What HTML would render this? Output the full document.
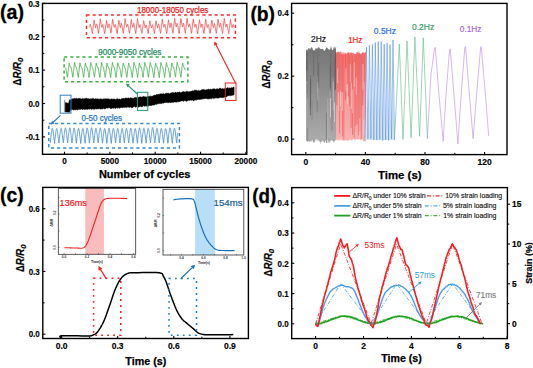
<!DOCTYPE html>
<html><head><meta charset="utf-8"><style>
html,body{margin:0;padding:0;background:#fff;}
svg{display:block;font-family:"Liberation Sans", sans-serif;}
</style></head><body>
<svg width="533" height="368" viewBox="0 0 533 368">
<rect width="533" height="368" fill="#fff"/>
<text x="0" y="18.8" font-size="20.5" font-weight="bold" font-style="normal" text-anchor="start" fill="#000" textLength="24" lengthAdjust="spacingAndGlyphs" stroke="#000" stroke-width="0.3">(a)</text>
<line x1="42.5" y1="3.3" x2="45.1" y2="3.3" stroke="#000" stroke-width="1.1" />
<text x="39.5" y="6.5" font-size="9.3" font-weight="bold" font-style="normal" text-anchor="end" fill="#000" textLength="11.12" lengthAdjust="spacingAndGlyphs" stroke="#000" stroke-width="0.15">0.3</text>
<line x1="42.5" y1="36.7" x2="45.1" y2="36.7" stroke="#000" stroke-width="1.1" />
<text x="39.5" y="39.9" font-size="9.3" font-weight="bold" font-style="normal" text-anchor="end" fill="#000" textLength="11.12" lengthAdjust="spacingAndGlyphs" stroke="#000" stroke-width="0.15">0.2</text>
<line x1="42.5" y1="70.1" x2="45.1" y2="70.1" stroke="#000" stroke-width="1.1" />
<text x="39.5" y="73.3" font-size="9.3" font-weight="bold" font-style="normal" text-anchor="end" fill="#000" textLength="11.12" lengthAdjust="spacingAndGlyphs" stroke="#000" stroke-width="0.15">0.1</text>
<line x1="42.5" y1="103.5" x2="45.1" y2="103.5" stroke="#000" stroke-width="1.1" />
<text x="39.5" y="106.7" font-size="9.3" font-weight="bold" font-style="normal" text-anchor="end" fill="#000" textLength="11.12" lengthAdjust="spacingAndGlyphs" stroke="#000" stroke-width="0.15">0.0</text>
<line x1="42.5" y1="136.9" x2="45.1" y2="136.9" stroke="#000" stroke-width="1.1" />
<text x="39.5" y="140.1" font-size="9.3" font-weight="bold" font-style="normal" text-anchor="end" fill="#000" textLength="13.78" lengthAdjust="spacingAndGlyphs" stroke="#000" stroke-width="0.15">-0.1</text>
<line x1="42.5" y1="20" x2="44.32" y2="20" stroke="#000" stroke-width="1" />
<line x1="42.5" y1="53.4" x2="44.32" y2="53.4" stroke="#000" stroke-width="1" />
<line x1="42.5" y1="86.8" x2="44.32" y2="86.8" stroke="#000" stroke-width="1" />
<line x1="42.5" y1="120.2" x2="44.32" y2="120.2" stroke="#000" stroke-width="1" />
<line x1="64.5" y1="154.3" x2="64.5" y2="151.7" stroke="#000" stroke-width="1.1" />
<text x="64.5" y="164.2" font-size="8.2" font-weight="bold" font-style="normal" text-anchor="middle" fill="#000" stroke="#000" stroke-width="0.15">0</text>
<line x1="109.85" y1="154.3" x2="109.85" y2="151.7" stroke="#000" stroke-width="1.1" />
<text x="109.85" y="164.2" font-size="8.2" font-weight="bold" font-style="normal" text-anchor="middle" fill="#000" stroke="#000" stroke-width="0.15">5000</text>
<line x1="155.2" y1="154.3" x2="155.2" y2="151.7" stroke="#000" stroke-width="1.1" />
<text x="155.2" y="164.2" font-size="8.2" font-weight="bold" font-style="normal" text-anchor="middle" fill="#000" stroke="#000" stroke-width="0.15">10000</text>
<line x1="200.55" y1="154.3" x2="200.55" y2="151.7" stroke="#000" stroke-width="1.1" />
<text x="200.55" y="164.2" font-size="8.2" font-weight="bold" font-style="normal" text-anchor="middle" fill="#000" stroke="#000" stroke-width="0.15">15000</text>
<line x1="245.9" y1="154.3" x2="245.9" y2="151.7" stroke="#000" stroke-width="1.1" />
<text x="245.9" y="164.2" font-size="8.2" font-weight="bold" font-style="normal" text-anchor="middle" fill="#000" stroke="#000" stroke-width="0.15">20000</text>
<line x1="87.17" y1="154.3" x2="87.17" y2="152.48" stroke="#000" stroke-width="1" />
<line x1="132.53" y1="154.3" x2="132.53" y2="152.48" stroke="#000" stroke-width="1" />
<line x1="177.88" y1="154.3" x2="177.88" y2="152.48" stroke="#000" stroke-width="1" />
<line x1="223.22" y1="154.3" x2="223.22" y2="152.48" stroke="#000" stroke-width="1" />
<text x="144.7" y="178.2" font-size="11.2" font-weight="bold" font-style="normal" text-anchor="middle" fill="#000" textLength="91.5" lengthAdjust="spacingAndGlyphs" stroke="#000" stroke-width="0.25">Number of cycles</text>
<text x="0" y="0" font-size="10" font-weight="bold" font-style="normal" text-anchor="middle" fill="#000" textLength="27.6" lengthAdjust="spacingAndGlyphs" stroke="#000" stroke-width="0.2" transform="translate(21.4 71.6) rotate(-90)">&#916;<tspan font-style="italic">R/R</tspan><tspan font-style="italic" font-size="8" dy="1.6">0</tspan></text>
<path d="M65 102.8 L65.76 102.73 L66.52 102.66 L67.28 103.33 L68.04 102.81 L68.8 103.4 L69.4 99.8 L70.4 100 L71.2 99.54 L72 99 L72.67 98.82 L73.33 98.45 L74 98.91 L74.67 98.36 L75.33 98.76 L76 98.33 L76.67 98.32 L77.33 98.65 L78 99.06 L78.67 98.25 L79.33 98.33 L80 98.6 L80.67 98.75 L81.33 99.12 L82 98.73 L82.67 98.54 L83.33 99.2 L84 98.19 L84.67 99.09 L85.33 98.48 L86 98.34 L86.67 98.32 L87.33 98.55 L88 99.12 L88.67 98.43 L89.33 98.89 L90 98.97 L90.67 98.69 L91.33 98.9 L92 98.38 L92.67 98.39 L93.33 98.56 L94 98.9 L94.68 99.1 L95.35 98.83 L96.03 98.7 L96.7 99 L97.38 98.86 L98.05 98.7 L98.73 99.24 L99.41 99.14 L100.08 98.64 L100.76 99.01 L101.43 98.96 L102.11 99.35 L102.78 99.19 L103.46 98.7 L104.14 99.47 L104.81 98.52 L105.49 98.86 L106.16 99.23 L106.84 98.57 L107.51 98.94 L108.19 98.45 L108.86 99.14 L109.54 99.25 L110.22 99.05 L110.89 99.38 L111.57 98.77 L112.24 99.19 L112.92 99.08 L113.59 99.07 L114.27 98.93 L114.95 99.36 L115.62 99.48 L116.3 98.96 L116.97 99.17 L117.65 98.51 L118.32 99.22 L119 99 L119.68 99.11 L120.36 99.43 L121.04 99.19 L121.72 98.54 L122.4 98.59 L123.08 98.85 L123.76 98.08 L124.44 98.51 L125.12 98.13 L125.8 98.02 L126.48 97.9 L127.16 98.62 L127.84 97.86 L128.52 97.94 L129.2 98.04 L129.88 98.51 L130.56 97.59 L131.24 97.94 L131.92 97.99 L132.6 98.3 L133.28 98.18 L133.96 98.17 L134.64 97.47 L135.32 97.56 L136 97.6 L136.67 97.38 L137.35 97.9 L138.02 97.91 L138.69 96.96 L139.37 96.93 L140.04 96.93 L140.72 96.86 L141.39 97.08 L142.06 97.13 L142.74 96.71 L143.41 96.36 L144.08 96.75 L144.76 96.64 L145.43 96.79 L146.11 97.15 L146.78 96.8 L147.45 96.54 L148.13 96.59 L148.8 96.4 L149.48 96.48 L150.16 95.67 L150.85 96.48 L151.53 96.24 L152.21 96.22 L152.89 96.02 L153.57 95.45 L154.25 95.34 L154.94 94.9 L155.62 95.37 L156.3 94.62 L156.98 94.51 L157.66 94.54 L158.35 94.37 L159.03 94.45 L159.71 94.02 L160.39 93.84 L161.07 93.89 L161.75 93.72 L162.44 93.89 L163.12 93.4 L163.8 93.8 L164.47 94.15 L165.14 93.79 L165.81 93.21 L166.48 93.26 L167.15 93.3 L167.81 93.25 L168.48 92.92 L169.15 93.65 L169.82 93.74 L170.49 93.1 L171.16 93.05 L171.83 92.54 L172.5 92.5 L173.17 92.69 L173.84 92.54 L174.5 93.1 L175.17 92.29 L175.84 92.08 L176.51 93.03 L177.18 92.5 L177.85 92.01 L178.52 92.38 L179.19 91.75 L179.86 92.23 L180.53 92.66 L181.2 92.47 L181.86 92.22 L182.53 91.67 L183.2 91.72 L183.87 91.43 L184.54 92.03 L185.21 91.7 L185.88 91.91 L186.55 91.35 L187.22 91.16 L187.89 91.74 L188.55 91.87 L189.22 91.65 L189.89 91.54 L190.56 91.48 L191.23 91.33 L191.9 91 L192.57 90.63 L193.24 90.88 L193.91 90.64 L194.59 90.21 L195.26 90.14 L195.93 90.35 L196.6 90.26 L197.27 90.67 L197.94 90.89 L198.61 90.26 L199.29 90.73 L199.96 90.72 L200.63 90.62 L201.3 89.9 L201.97 89.67 L202.64 89.61 L203.31 89.51 L203.99 89.45 L204.66 89.85 L205.33 90.08 L206 89.95 L206.67 89.48 L207.34 89.61 L208.01 89.7 L208.69 88.85 L209.36 89.41 L210.03 89.62 L210.7 89.1 L211.37 89.38 L212.03 89.32 L212.7 88.99 L213.37 88.63 L214.03 89.28 L214.7 88.74 L215.37 89.23 L216.03 89.39 L216.7 88.73 L217.37 88.71 L218.03 89.28 L218.7 89 L219.37 88.37 L220.03 88.29 L220.7 88.29 L221.37 89.09 L222.03 88.95 L222.7 88.2 L223.37 88.92 L224.03 89.06 L224.7 88.5 L225.37 88.58 L226.04 88.15 L226.71 88.27 L227.39 87.72 L228.06 87.5 L228.73 88.46 L229.4 88.01 L230.07 87.79 L230.74 88.14 L231.41 87.5 L232.09 87.89 L232.76 87.74 L233.43 86.98 L234.1 87.2 L234.1 94.7 L233.43 95.07 L232.76 95.18 L232.09 95.35 L231.41 95.45 L230.74 95.93 L230.07 95.29 L229.4 95.75 L228.73 95.67 L228.06 95.73 L227.39 96.12 L226.71 96.8 L226.04 96.96 L225.37 97.36 L224.7 97.1 L224.03 97.26 L223.37 97.59 L222.7 97.64 L222.03 97.74 L221.37 97.44 L220.7 97.53 L220.03 97.17 L219.37 97.98 L218.7 97.96 L218.03 97.91 L217.37 98.26 L216.7 98.27 L216.03 97.46 L215.37 98.19 L214.7 98.35 L214.03 97.78 L213.37 98.77 L212.7 98.11 L212.03 98.25 L211.37 98.85 L210.7 98.5 L210.03 98.8 L209.36 98.8 L208.69 98.97 L208.01 98.79 L207.34 98.92 L206.67 98.59 L206 98.73 L205.33 98.49 L204.66 98.57 L203.99 99.03 L203.31 98.76 L202.64 99.01 L201.97 98.79 L201.3 99.41 L200.63 99.14 L199.96 99.53 L199.29 99.56 L198.61 99.53 L197.94 99.17 L197.27 99.63 L196.6 99.64 L195.93 100.43 L195.26 99.7 L194.59 100.09 L193.91 100.63 L193.24 100.68 L192.57 99.98 L191.9 100.3 L191.23 100.31 L190.56 100.06 L189.89 100.46 L189.22 100.34 L188.55 100.35 L187.89 100.46 L187.22 100.95 L186.55 101.24 L185.88 101.28 L185.21 100.51 L184.54 100.66 L183.87 100.83 L183.2 101.43 L182.53 100.76 L181.86 100.89 L181.2 100.88 L180.53 101.27 L179.86 101.4 L179.19 101.72 L178.52 101.86 L177.85 102.07 L177.18 101.59 L176.51 102.36 L175.84 102.11 L175.17 101.97 L174.5 101.92 L173.84 102.47 L173.17 102.16 L172.5 102.16 L171.83 102.65 L171.16 101.93 L170.49 102.91 L169.82 102.47 L169.15 102.23 L168.48 102.69 L167.81 102.96 L167.15 102.23 L166.48 102.56 L165.81 102.37 L165.14 102.8 L164.47 102.68 L163.8 103.1 L163.12 103.22 L162.44 103.11 L161.75 103.75 L161.07 103.38 L160.39 103.51 L159.71 103.51 L159.03 103.46 L158.35 103.71 L157.66 103.77 L156.98 104.04 L156.3 104.48 L155.62 104.16 L154.94 104.44 L154.25 105.29 L153.57 105 L152.89 104.89 L152.21 105.14 L151.53 105.71 L150.85 104.96 L150.16 105.95 L149.48 105.22 L148.8 105.8 L148.13 106.19 L147.45 106.07 L146.78 106.47 L146.11 105.58 L145.43 106.03 L144.76 106.39 L144.08 105.76 L143.41 105.85 L142.74 106.59 L142.06 106.51 L141.39 106.96 L140.72 106.17 L140.04 106.36 L139.37 107.04 L138.69 107.2 L138.02 106.73 L137.35 106.47 L136.67 106.68 L136 107 L135.32 107.34 L134.64 106.56 L133.96 106.84 L133.28 106.69 L132.6 107.68 L131.92 107.51 L131.24 107.76 L130.56 106.78 L129.88 107.3 L129.2 107.46 L128.52 107.17 L127.84 106.85 L127.16 107.35 L126.48 107.51 L125.8 106.95 L125.12 107.76 L124.44 107.34 L123.76 107.24 L123.08 107.43 L122.4 107.66 L121.72 107.6 L121.04 107.33 L120.36 108.1 L119.68 108.31 L119 107.8 L118.32 107.82 L117.65 107.75 L116.97 108.4 L116.3 107.62 L115.62 108.48 L114.95 108.42 L114.27 107.63 L113.59 108.24 L112.92 108.33 L112.24 107.74 L111.57 108.59 L110.89 108.5 L110.22 108.41 L109.54 107.78 L108.86 108 L108.19 107.85 L107.51 108.29 L106.84 107.97 L106.16 108.02 L105.49 108.82 L104.81 108.97 L104.14 108.58 L103.46 108.28 L102.78 109.06 L102.11 109.02 L101.43 108.86 L100.76 109.16 L100.08 108.68 L99.41 108.78 L98.73 108.72 L98.05 109.02 L97.38 108.85 L96.7 108.88 L96.03 109.03 L95.35 108.87 L94.68 109.42 L94 109 L93.33 109.31 L92.67 109.12 L92 109.08 L91.33 109.4 L90.67 108.88 L90 108.87 L89.33 109.24 L88.67 108.76 L88 109.53 L87.33 109.3 L86.67 109.29 L86 109.1 L85.33 109.38 L84.67 109.59 L84 109.33 L83.33 109.03 L82.67 109.74 L82 108.89 L81.33 109.11 L80.67 109.42 L80 108.98 L79.33 109.56 L78.67 109.59 L78 109.58 L77.33 110.07 L76.67 109.54 L76 110.1 L75.33 109.77 L74.67 109.66 L74 109.57 L73.33 110.2 L72.67 109.37 L72 109.8 L71.2 109.81 L70.4 110 L69.4 112.4 L68.67 112.1 L67.93 112.43 L67.2 112.01 L66.47 112.04 L65.73 111.96 L65 112.2 Z" fill="#000" stroke="#000" stroke-width="0.5" stroke-linejoin="round" />
<rect x="63.9" y="99.9" width="1.3" height="11.9" stroke="none" stroke-width="0" fill="#9a9a9a" />
<rect x="60.2" y="95.2" width="10.8" height="18" stroke="#2f7fc0" stroke-width="1" fill="none" />
<rect x="137.4" y="92.3" width="10.4" height="18.1" stroke="#2a9a70" stroke-width="1" fill="none" />
<rect x="225.3" y="83" width="10.7" height="17.4" stroke="#ee2222" stroke-width="1" fill="none" />
<rect x="48.8" y="123.4" width="130.6" height="24.7" stroke="#3a8cd0" stroke-width="1.5" fill="none" stroke-dasharray="3.2 2.9"/>
<rect x="64.1" y="57" width="123.8" height="24.8" stroke="#3cae46" stroke-width="1.5" fill="none" stroke-dasharray="3.2 2.9"/>
<rect x="86.5" y="15" width="148.9" height="22.8" stroke="#f23030" stroke-width="1.5" fill="none" stroke-dasharray="3.2 2.9"/>
<text x="81.5" y="121" font-size="8.3" font-weight="normal" font-style="normal" text-anchor="start" fill="#2a78c0" textLength="40.5" lengthAdjust="spacingAndGlyphs" stroke="#2a78c0" stroke-width="0.25">0-50 cycles</text>
<text x="98.2" y="54.6" font-size="8.3" font-weight="normal" font-style="normal" text-anchor="start" fill="#1f8a60" textLength="63.2" lengthAdjust="spacingAndGlyphs" stroke="#23906a" stroke-width="0.25">9000-9050 cycles</text>
<text x="137" y="12.9" font-size="8.3" font-weight="normal" font-style="normal" text-anchor="start" fill="#f02020" textLength="71.3" lengthAdjust="spacingAndGlyphs" stroke="#f02020" stroke-width="0.25">18000-18050 cycles</text>
<line x1="60.5" y1="115.3" x2="52.97" y2="122.52" stroke="#2a78c0" stroke-width="1.1" />
<path d="M50.8 124.6 L52.01 120.81 L54.64 123.55 Z" fill="#2a78c0"/>
<line x1="137.3" y1="94" x2="128.21" y2="85.63" stroke="#23906a" stroke-width="1.1" />
<path d="M126 83.6 L129.86 84.57 L127.29 87.37 Z" fill="#23906a"/>
<line x1="235.6" y1="83.3" x2="215.8" y2="44.44" stroke="#ee2020" stroke-width="1.1" />
<path d="M214.3 41.5 L217.81 43.98 L214.24 45.79 Z" fill="#ee2020"/>
<path d="M50.2 143.3 L50.33 142.15 L50.45 141.07 L50.58 139.83 L50.7 138.47 L50.83 137.47 L50.95 136.26 L51.08 134.81 L51.2 134.11 L51.33 133.15 L51.45 132.18 L51.58 131.38 L51.7 130.6 L51.83 129.56 L51.95 128.78 L52.08 128.67 L52.2 128.31 L52.33 128.29 L52.45 128.31 L52.58 128.69 L52.7 128.88 L52.83 129.26 L52.95 130.03 L53.08 130.89 L53.2 131.98 L53.33 133.08 L53.45 133.98 L53.58 134.93 L53.7 135.81 L53.83 136.86 L53.95 137.99 L54.08 139.3 L54.2 140.34 L54.33 141.26 L54.45 142.33 L54.58 143.37 L54.7 142.06 L54.83 140.81 L54.95 139.72 L55.08 138.65 L55.2 137.28 L55.33 136.27 L55.45 135.06 L55.58 134.23 L55.7 133.49 L55.83 132.36 L55.95 131.59 L56.08 130.68 L56.2 129.84 L56.33 129.33 L56.45 128.87 L56.58 128.93 L56.71 128.54 L56.83 128.81 L56.96 129.13 L57.08 129.37 L57.21 129.77 L57.33 130.44 L57.46 131.44 L57.58 132.3 L57.71 133.43 L57.83 134.29 L57.96 135.38 L58.08 136.3 L58.21 137.41 L58.33 138.52 L58.46 139.39 L58.58 140.55 L58.71 141.66 L58.83 142.59 L58.96 143.12 L59.08 141.95 L59.21 140.72 L59.33 139.44 L59.46 138.24 L59.58 137 L59.71 135.88 L59.83 134.88 L59.96 133.72 L60.08 133.05 L60.21 132.18 L60.33 131.22 L60.46 130.22 L60.58 129.42 L60.71 128.98 L60.83 128.71 L60.96 128.47 L61.08 128.33 L61.21 128.6 L61.33 128.7 L61.46 129.19 L61.58 129.64 L61.71 130.45 L61.83 131.34 L61.96 132.2 L62.08 133.35 L62.21 134.35 L62.33 135.25 L62.46 136.12 L62.58 137.23 L62.71 138.32 L62.83 139.51 L62.96 140.7 L63.09 141.59 L63.21 142.74 L63.34 142.74 L63.46 141.53 L63.59 140.41 L63.71 139.25 L63.84 138.06 L63.96 136.83 L64.09 135.61 L64.21 134.41 L64.34 133.58 L64.46 132.54 L64.59 131.75 L64.71 130.92 L64.84 129.86 L64.96 128.94 L65.09 128.39 L65.21 128.28 L65.34 128.07 L65.46 127.78 L65.59 128.09 L65.71 128.55 L65.84 128.82 L65.96 129.39 L66.09 130.3 L66.21 131.09 L66.34 132.17 L66.46 133.34 L66.59 134.15 L66.71 135.34 L66.84 136.36 L66.96 137.41 L67.09 138.52 L67.21 139.55 L67.34 140.63 L67.46 141.8 L67.59 142.81 L67.71 142.71 L67.84 141.36 L67.96 140.12 L68.09 139.09 L68.21 137.78 L68.34 136.48 L68.46 135.25 L68.59 134.07 L68.71 133.45 L68.84 132.39 L68.96 131.45 L69.09 130.52 L69.21 129.79 L69.34 128.83 L69.47 128.36 L69.59 128.12 L69.72 128.04 L69.84 127.92 L69.97 128.13 L70.09 128.4 L70.22 129.05 L70.34 129.2 L70.47 130.38 L70.59 131.14 L70.72 132.39 L70.84 133.31 L70.97 134.44 L71.09 135.26 L71.22 136.38 L71.34 137.62 L71.47 138.56 L71.59 139.6 L71.72 140.97 L71.84 142.05 L71.97 142.96 L72.09 142.39 L72.22 141.25 L72.34 140.15 L72.47 138.86 L72.59 137.59 L72.72 136.39 L72.84 135.25 L72.97 134.08 L73.09 133.32 L73.22 132.49 L73.34 131.6 L73.47 130.66 L73.59 129.91 L73.72 128.84 L73.84 128.4 L73.97 128.42 L74.09 128.2 L74.22 128.09 L74.34 128.55 L74.47 128.79 L74.59 129.15 L74.72 129.57 L74.84 130.58 L74.97 131.58 L75.09 132.58 L75.22 133.53 L75.34 134.57 L75.47 135.47 L75.59 136.49 L75.72 137.78 L75.85 138.83 L75.97 140.05 L76.1 141.07 L76.22 142.04 L76.35 143.3 L76.47 142.43 L76.6 141.22 L76.72 140.09 L76.85 138.68 L76.97 137.58 L77.1 136.3 L77.22 135.06 L77.35 134.36 L77.47 133.3 L77.6 132.43 L77.72 131.64 L77.85 130.71 L77.97 129.81 L78.1 128.96 L78.22 128.87 L78.35 128.59 L78.47 128.51 L78.6 128.35 L78.72 128.74 L78.85 129.14 L78.97 129.5 L79.1 130.13 L79.22 131.11 L79.35 132.01 L79.47 132.92 L79.6 133.98 L79.72 134.83 L79.85 136.03 L79.97 136.79 L80.1 138.02 L80.22 139.19 L80.35 140.08 L80.47 141.21 L80.6 142.37 L80.72 143.51 L80.85 142.31 L80.97 141.12 L81.1 139.89 L81.22 138.66 L81.35 137.31 L81.47 136.38 L81.6 135.06 L81.72 134.26 L81.85 133.32 L81.97 132.6 L82.1 131.68 L82.23 130.83 L82.35 130.01 L82.48 129.05 L82.6 128.85 L82.73 128.63 L82.85 128.4 L82.98 128.43 L83.1 128.9 L83.23 129.43 L83.35 129.69 L83.48 130.27 L83.6 131.37 L83.73 132.22 L83.85 133.25 L83.98 134.22 L84.1 135.21 L84.23 135.97 L84.35 137.21 L84.48 138.16 L84.6 139.31 L84.73 140.22 L84.85 141.48 L84.98 142.43 L85.1 143.28 L85.23 142 L85.35 140.89 L85.48 139.61 L85.6 138.38 L85.73 137.04 L85.85 135.8 L85.98 134.66 L86.1 133.95 L86.23 133.01 L86.35 132.06 L86.48 131.1 L86.6 130.33 L86.73 129.39 L86.85 128.52 L86.98 128.55 L87.1 128.12 L87.23 128 L87.35 128.19 L87.48 128.43 L87.6 128.83 L87.73 129.36 L87.85 130.17 L87.98 130.99 L88.1 132 L88.23 132.93 L88.35 134.04 L88.48 135.08 L88.61 136.17 L88.73 137 L88.86 138.32 L88.98 139.29 L89.11 140.57 L89.23 141.49 L89.36 142.79 L89.48 143.12 L89.61 141.86 L89.73 140.52 L89.86 139.31 L89.98 138.07 L90.11 136.82 L90.23 135.69 L90.36 134.41 L90.48 133.52 L90.61 132.69 L90.73 131.88 L90.86 130.89 L90.98 130.11 L91.11 129.28 L91.23 128.38 L91.36 128.26 L91.48 128.01 L91.61 127.73 L91.73 128.16 L91.86 128.62 L91.98 128.75 L92.11 129.2 L92.23 130.11 L92.36 130.98 L92.48 132.06 L92.61 133.15 L92.73 134.15 L92.86 135.23 L92.98 136.08 L93.11 137.18 L93.23 138.4 L93.36 139.31 L93.48 140.53 L93.61 141.67 L93.73 142.89 L93.86 142.91 L93.98 141.54 L94.11 140.46 L94.23 139.17 L94.36 137.96 L94.48 137 L94.61 135.56 L94.73 134.67 L94.86 133.61 L94.99 132.94 L95.11 132.08 L95.24 131.21 L95.36 130.33 L95.49 129.32 L95.61 128.93 L95.74 128.7 L95.86 128.51 L95.99 128.29 L96.11 128.65 L96.24 128.95 L96.36 129.48 L96.49 129.84 L96.61 130.49 L96.74 131.66 L96.86 132.59 L96.99 133.59 L97.11 134.46 L97.24 135.45 L97.36 136.46 L97.49 137.48 L97.61 138.51 L97.74 139.74 L97.86 140.93 L97.99 141.97 L98.11 142.84 L98.24 142.77 L98.36 141.43 L98.49 140.3 L98.61 139 L98.74 137.82 L98.86 136.58 L98.99 135.4 L99.11 134.26 L99.24 133.23 L99.36 132.55 L99.49 131.51 L99.61 130.63 L99.74 129.92 L99.86 128.84 L99.99 128.55 L100.11 128.2 L100.24 128.13 L100.36 127.84 L100.49 128.19 L100.61 128.71 L100.74 128.99 L100.86 129.46 L100.99 130.44 L101.11 131.58 L101.24 132.54 L101.37 133.37 L101.49 134.53 L101.62 135.37 L101.74 136.55 L101.87 137.51 L101.99 138.73 L102.12 139.91 L102.24 141.05 L102.37 142.05 L102.49 143.16 L102.62 142.39 L102.74 141.41 L102.87 140.21 L102.99 138.97 L103.12 137.81 L103.24 136.63 L103.37 135.32 L103.49 134.28 L103.62 133.56 L103.74 132.67 L103.87 131.97 L103.99 130.95 L104.12 130.17 L104.24 129.23 L104.37 128.88 L104.49 128.79 L104.62 128.45 L104.74 128.45 L104.87 128.73 L104.99 129.21 L105.12 129.5 L105.24 129.95 L105.37 131.09 L105.49 131.88 L105.62 133.06 L105.74 134.01 L105.87 134.95 L105.99 135.8 L106.12 136.91 L106.24 137.92 L106.37 139.07 L106.49 140.16 L106.62 141.12 L106.74 142.32 L106.87 143.42 L106.99 142.17 L107.12 141.02 L107.24 139.77 L107.37 138.48 L107.49 137.49 L107.62 136.25 L107.75 134.85 L107.87 134.1 L108 133.06 L108.12 132.2 L108.25 131.48 L108.37 130.47 L108.5 129.58 L108.62 128.78 L108.75 128.46 L108.87 128.26 L109 128.03 L109.12 128.11 L109.25 128.46 L109.37 128.69 L109.5 129.19 L109.62 129.62 L109.75 130.77 L109.87 131.85 L110 132.81 L110.12 133.87 L110.25 134.77 L110.37 135.66 L110.5 136.71 L110.62 137.88 L110.75 139.03 L110.87 140.24 L111 141.25 L111.12 142.41 L111.25 143.42 L111.37 142.14 L111.5 141.04 L111.62 139.58 L111.75 138.65 L111.87 137.28 L112 135.98 L112.12 134.82 L112.25 133.93 L112.37 133.2 L112.5 132.38 L112.62 131.36 L112.75 130.52 L112.87 129.82 L113 128.92 L113.12 128.77 L113.25 128.56 L113.37 128.39 L113.5 128.31 L113.62 128.77 L113.75 129.27 L113.87 129.38 L114 130.12 L114.13 131.12 L114.25 132.21 L114.38 133.13 L114.5 134.06 L114.63 135.16 L114.75 136.03 L114.88 137.07 L115 138.05 L115.13 139.35 L115.25 140.38 L115.38 141.33 L115.5 142.44 L115.63 143.04 L115.75 141.93 L115.88 140.95 L116 139.61 L116.13 138.4 L116.25 137.17 L116.38 136.12 L116.5 134.86 L116.63 134.22 L116.75 133.2 L116.88 132.53 L117 131.43 L117.13 130.6 L117.25 129.82 L117.38 129.25 L117.5 129.04 L117.63 128.75 L117.75 128.4 L117.88 128.82 L118 129.24 L118.13 129.39 L118.25 129.84 L118.38 130.68 L118.5 131.55 L118.63 132.34 L118.75 133.4 L118.88 134.3 L119 135.24 L119.13 136.42 L119.25 137.51 L119.38 138.36 L119.5 139.52 L119.63 140.55 L119.75 141.63 L119.88 142.69 L120 143.05 L120.13 141.86 L120.25 140.61 L120.38 139.56 L120.51 138.33 L120.63 137.14 L120.76 135.95 L120.88 134.79 L121.01 133.87 L121.13 133.24 L121.26 132.25 L121.38 131.58 L121.51 130.57 L121.63 129.66 L121.76 129.08 L121.88 128.95 L122.01 128.73 L122.13 128.46 L122.26 128.95 L122.38 129.08 L122.51 129.64 L122.63 129.93 L122.76 130.63 L122.88 131.65 L123.01 132.72 L123.13 133.58 L123.26 134.51 L123.38 135.65 L123.51 136.61 L123.63 137.39 L123.76 138.53 L123.88 139.61 L124.01 140.82 L124.13 141.69 L124.26 142.79 L124.38 142.92 L124.51 141.7 L124.63 140.46 L124.76 139.26 L124.88 137.9 L125.01 136.77 L125.13 135.81 L125.26 134.66 L125.38 133.67 L125.51 132.79 L125.63 132.17 L125.76 131.25 L125.88 130.38 L126.01 129.32 L126.13 129.01 L126.26 128.69 L126.38 128.57 L126.51 128.25 L126.63 128.69 L126.76 129.07 L126.89 129.56 L127.01 129.87 L127.14 130.85 L127.26 131.75 L127.39 132.56 L127.51 133.67 L127.64 134.6 L127.76 135.48 L127.89 136.45 L128.01 137.75 L128.14 138.74 L128.26 139.71 L128.39 140.8 L128.51 141.83 L128.64 142.99 L128.76 142.51 L128.89 141.44 L129.01 140.36 L129.14 139.12 L129.26 137.75 L129.39 136.72 L129.51 135.26 L129.64 134.28 L129.76 133.51 L129.89 132.66 L130.01 131.69 L130.14 130.99 L130.26 130.08 L130.39 129.18 L130.51 128.91 L130.64 128.54 L130.76 128.26 L130.89 128.21 L131.01 128.62 L131.14 129.02 L131.26 129.31 L131.39 129.8 L131.51 130.56 L131.64 131.84 L131.76 132.58 L131.89 133.7 L132.01 134.57 L132.14 135.5 L132.26 136.74 L132.39 137.82 L132.51 138.93 L132.64 139.86 L132.76 141 L132.89 142.13 L133.01 143.23 L133.14 142.48 L133.27 141.16 L133.39 140.19 L133.52 139.03 L133.64 137.73 L133.77 136.63 L133.89 135.35 L134.02 134.28 L134.14 133.65 L134.27 132.57 L134.39 131.73 L134.52 131.09 L134.64 130.26 L134.77 129.12 L134.89 129.08 L135.02 128.75 L135.14 128.64 L135.27 128.66 L135.39 128.75 L135.52 129.35 L135.64 129.47 L135.77 130.13 L135.89 131.18 L136.02 131.94 L136.14 133.09 L136.27 133.87 L136.39 135 L136.52 135.8 L136.64 136.91 L136.77 137.91 L136.89 139.16 L137.02 140.22 L137.14 141.16 L137.27 142.16 L137.39 143.3 L137.52 142.3 L137.64 141.02 L137.77 139.79 L137.89 138.58 L138.02 137.25 L138.14 136.05 L138.27 134.92 L138.39 133.95 L138.52 133.15 L138.64 131.97 L138.77 131.11 L138.89 130.19 L139.02 129.55 L139.14 128.48 L139.27 128.18 L139.39 127.92 L139.52 127.87 L139.65 127.92 L139.77 128.22 L139.9 128.7 L140.02 128.9 L140.15 129.73 L140.27 130.5 L140.4 131.6 L140.52 132.77 L140.65 133.56 L140.77 134.74 L140.9 135.77 L141.02 136.85 L141.15 137.92 L141.27 139.14 L141.4 140.01 L141.52 141.16 L141.65 142.31 L141.77 143.39 L141.9 142.2 L142.02 140.81 L142.15 139.7 L142.27 138.39 L142.4 137.45 L142.52 136.03 L142.65 134.94 L142.77 133.99 L142.9 133.38 L143.02 132.5 L143.15 131.42 L143.27 130.56 L143.4 129.91 L143.52 128.92 L143.65 128.92 L143.77 128.49 L143.9 128.36 L144.02 128.43 L144.15 128.87 L144.27 129.12 L144.4 129.59 L144.52 130.37 L144.65 131.21 L144.77 132.17 L144.9 133.29 L145.02 134.13 L145.15 135.01 L145.27 136.09 L145.4 137.07 L145.52 138.1 L145.65 139.31 L145.77 140.43 L145.9 141.4 L146.03 142.7 L146.15 143.17 L146.28 142.02 L146.4 140.59 L146.53 139.45 L146.65 138.38 L146.78 137.04 L146.9 136 L147.03 134.69 L147.15 133.96 L147.28 133.15 L147.4 132.18 L147.53 131.4 L147.65 130.53 L147.78 129.47 L147.9 129.06 L148.03 128.78 L148.15 128.39 L148.28 128.33 L148.4 128.65 L148.53 128.84 L148.65 129.2 L148.78 129.5 L148.9 130.41 L149.03 131.2 L149.15 132.27 L149.28 133.35 L149.4 134.31 L149.53 135.22 L149.65 136.09 L149.78 137.21 L149.9 138.39 L150.03 139.5 L150.15 140.47 L150.28 141.52 L150.4 142.84 L150.53 142.91 L150.65 141.56 L150.78 140.35 L150.9 139.26 L151.03 137.96 L151.15 136.57 L151.28 135.59 L151.4 134.5 L151.53 133.45 L151.65 132.64 L151.78 131.6 L151.9 130.63 L152.03 129.76 L152.15 128.98 L152.28 128.4 L152.41 128.25 L152.53 127.72 L152.66 127.54 L152.78 128.12 L152.91 128.51 L153.03 128.9 L153.16 129.11 L153.28 129.92 L153.41 130.93 L153.53 132.05 L153.66 133.01 L153.78 134.19 L153.91 134.95 L154.03 136.22 L154.16 137.33 L154.28 138.46 L154.41 139.44 L154.53 140.66 L154.66 141.85 L154.78 142.73 L154.91 142.78 L155.03 141.63 L155.16 140.32 L155.28 139.26 L155.41 137.97 L155.53 136.98 L155.66 135.55 L155.78 134.69 L155.91 133.89 L156.03 132.82 L156.16 132.02 L156.28 131.25 L156.41 130.38 L156.53 129.58 L156.66 128.99 L156.78 128.88 L156.91 128.52 L157.03 128.34 L157.16 128.69 L157.28 129.3 L157.41 129.59 L157.53 129.83 L157.66 130.82 L157.78 131.67 L157.91 132.88 L158.03 133.72 L158.16 134.81 L158.28 135.53 L158.41 136.46 L158.53 137.62 L158.66 138.66 L158.79 139.69 L158.91 140.86 L159.04 141.9 L159.16 143 L159.29 142.61 L159.41 141.3 L159.54 140.22 L159.66 139.09 L159.79 137.89 L159.91 136.65 L160.04 135.28 L160.16 134.36 L160.29 133.62 L160.41 132.82 L160.54 131.88 L160.66 131.09 L160.79 130.16 L160.91 129.23 L161.04 128.97 L161.16 128.55 L161.29 128.47 L161.41 128.42 L161.54 128.74 L161.66 129.01 L161.79 129.49 L161.91 129.96 L162.04 130.72 L162.16 131.97 L162.29 132.7 L162.41 133.74 L162.54 134.7 L162.66 135.87 L162.79 136.76 L162.91 137.83 L163.04 138.94 L163.16 140.07 L163.29 141.09 L163.41 142.22 L163.54 143.25 L163.66 142.43 L163.79 141.38 L163.91 139.96 L164.04 138.84 L164.16 137.72 L164.29 136.5 L164.41 135.31 L164.54 134.47 L164.66 133.41 L164.79 132.82 L164.91 131.71 L165.04 131.09 L165.17 130.12 L165.29 129.2 L165.42 128.83 L165.54 128.87 L165.67 128.68 L165.79 128.61 L165.92 128.88 L166.04 129.13 L166.17 129.6 L166.29 130 L166.42 131.2 L166.54 132 L166.67 132.91 L166.79 133.96 L166.92 135.1 L167.04 135.89 L167.17 136.85 L167.29 137.95 L167.42 139.1 L167.54 140.2 L167.67 141.16 L167.79 142.27 L167.92 143.3 L168.04 142.17 L168.17 141.11 L168.29 139.76 L168.42 138.51 L168.54 137.15 L168.67 136.04 L168.79 134.8 L168.92 133.93 L169.04 133.06 L169.17 132.04 L169.29 131.39 L169.42 130.38 L169.54 129.48 L169.67 128.61 L169.79 128.38 L169.92 128.23 L170.04 127.82 L170.17 128.1 L170.29 128.39 L170.42 128.83 L170.54 129.22 L170.67 129.68 L170.79 130.76 L170.92 131.73 L171.04 132.93 L171.17 133.73 L171.29 134.88 L171.42 135.72 L171.55 136.78 L171.67 137.87 L171.8 139.2 L171.92 140.15 L172.05 141.17 L172.17 142.34 L172.3 143.27 L172.42 141.98 L172.55 140.7 L172.67 139.74 L172.8 138.46 L172.92 137.19 L173.05 136.12 L173.17 134.97 L173.3 134.02 L173.42 132.95 L173.55 132.34 L173.67 131.3 L173.8 130.49 L173.92 129.69 L174.05 128.75 L174.17 128.69 L174.3 128.44 L174.42 128.14 L174.55 128.33 L174.67 128.62 L174.8 129.05 L174.92 129.36 L175.05 130.24 L175.17 131.05 L175.3 132.07 L175.42 133.09 L175.55 133.95 L175.67 135.22 L175.8 136.12 L175.92 137.01 L176.05 138.09 L176.17 139.2 L176.3 140.53 L176.42 141.5 L176.55 142.48 L176.67 143.07 L176.8 141.96 L176.92 140.53 L177.05 139.55 L177.17 138.22 L177.3 136.93 L177.42 135.72 L177.55 134.65 L177.67 133.82 L177.8 133.03" fill="none" stroke="#3a88cc" stroke-width="0.8" stroke-linejoin="round" />
<path d="M65.5 67.79 L65.62 67.82 L65.75 68.2 L65.88 68.26 L66 69.05 L66.12 69.73 L66.25 70.66 L66.38 71.35 L66.5 72.02 L66.62 72.91 L66.75 73.66 L66.88 74.14 L67 75.02 L67.12 75.83 L67.25 76.47 L67.38 77.29 L67.5 77.14 L67.62 76.06 L67.75 74.98 L67.88 73.92 L68 72.69 L68.12 71.87 L68.25 70.82 L68.38 69.63 L68.5 68.66 L68.62 67.42 L68.75 66.28 L68.88 65.17 L69 64.11 L69.12 63.15 L69.25 63.12 L69.38 63.48 L69.5 64.22 L69.62 64.56 L69.75 65.19 L69.88 65.42 L70 65.85 L70.12 66.22 L70.25 66.59 L70.38 66.71 L70.5 67.14 L70.62 67.42 L70.75 67.6 L70.88 67.9 L71 67.69 L71.12 67.72 L71.25 67.94 L71.38 68.76 L71.5 69.46 L71.62 70.16 L71.75 71.07 L71.88 71.79 L72 72.67 L72.12 73.33 L72.25 73.94 L72.38 74.78 L72.5 75.66 L72.62 76.3 L72.75 77.12 L72.88 77.29 L73 76.21 L73.12 75.09 L73.25 74.1 L73.38 72.83 L73.5 71.76 L73.62 70.8 L73.75 69.72 L73.88 68.46 L74 67.32 L74.12 66.37 L74.25 65.09 L74.38 64.23 L74.5 62.99 L74.62 62.48 L74.75 63.24 L74.88 63.78 L75 64.08 L75.12 64.71 L75.25 65.11 L75.38 65.56 L75.5 65.8 L75.62 66 L75.75 66.45 L75.88 66.73 L76 67.01 L76.12 67.35 L76.25 67.62 L76.38 68.08 L76.5 68.06 L76.62 68.06 L76.75 68.76 L76.88 69.6 L77 70.49 L77.12 71.15 L77.25 71.73 L77.38 72.65 L77.5 73.4 L77.62 74.04 L77.75 74.79 L77.88 75.39 L78 76.2 L78.12 76.77 L78.25 77.52 L78.38 76.4 L78.5 75.35 L78.62 74.34 L78.75 73.13 L78.88 72.31 L79 71.29 L79.12 70.2 L79.25 68.88 L79.38 67.85 L79.5 67.02 L79.62 65.73 L79.75 64.7 L79.88 63.67 L80 62.87 L80.12 63.44 L80.25 63.99 L80.38 64.45 L80.5 64.92 L80.62 65.57 L80.75 65.67 L80.88 66.02 L81 66.37 L81.12 66.87 L81.25 66.97 L81.38 67.28 L81.5 67.57 L81.62 67.79 L81.75 67.99 L81.88 67.99 L82 68.08 L82.12 68.95 L82.25 69.52 L82.38 70.32 L82.5 71.09 L82.62 71.7 L82.75 72.49 L82.88 73.22 L83 73.75 L83.12 74.62 L83.25 75.19 L83.38 76.16 L83.5 76.82 L83.62 77.35 L83.75 76.75 L83.88 75.63 L84 74.44 L84.12 73.64 L84.25 72.33 L84.38 71.36 L84.5 70.24 L84.62 69.36 L84.75 68.12 L84.88 67.04 L85 66.2 L85.12 65.08 L85.25 63.99 L85.38 63.06 L85.5 63.58 L85.62 64.03 L85.75 64.4 L85.88 64.92 L86 65.45 L86.12 65.76 L86.25 66.14 L86.38 66.42 L86.5 66.61 L86.62 67.03 L86.75 67.3 L86.88 67.53 L87 67.99 L87.12 67.75 L87.25 67.67 L87.38 67.72 L87.5 68.31 L87.62 68.94 L87.75 69.92 L87.88 70.55 L88 71.19 L88.12 71.94 L88.25 72.69 L88.38 73.52 L88.5 74.46 L88.62 75.06 L88.75 75.71 L88.88 76.72 L89 77.47 L89.12 77 L89.25 75.76 L89.38 74.78 L89.5 73.7 L89.62 72.47 L89.75 71.22 L89.88 70.35 L90 69.17 L90.12 68.01 L90.25 66.79 L90.38 65.77 L90.5 64.65 L90.62 63.54 L90.75 62.38 L90.88 62.62 L91 63.24 L91.12 63.87 L91.25 64.34 L91.38 64.93 L91.5 65.22 L91.62 65.53 L91.75 65.77 L91.88 66.07 L92 66.39 L92.12 66.77 L92.25 67.05 L92.38 67.39 L92.5 67.93 L92.62 67.96 L92.75 68.19 L92.88 68.48 L93 69.32 L93.12 69.94 L93.25 70.56 L93.38 71.38 L93.5 72.19 L93.62 72.77 L93.75 73.52 L93.88 74.34 L94 75.09 L94.12 75.8 L94.25 76.46 L94.38 77.25 L94.5 77.14 L94.62 76.07 L94.75 74.91 L94.88 73.85 L95 72.92 L95.12 71.77 L95.25 70.84 L95.38 69.59 L95.5 68.51 L95.62 67.4 L95.75 66.41 L95.88 65.38 L96 64.34 L96.12 63.16 L96.25 63.27 L96.38 63.58 L96.5 64.07 L96.62 64.77 L96.75 65.36 L96.88 65.63 L97 65.96 L97.12 66.15 L97.25 66.42 L97.38 66.85 L97.5 67.18 L97.62 67.35 L97.75 67.65 L97.88 68.02 L98 67.53 L98.12 67.63 L98.25 67.85 L98.38 68.5 L98.5 69.33 L98.62 70.26 L98.75 70.97 L98.88 71.57 L99 72.6 L99.12 73.24 L99.25 74.06 L99.38 74.75 L99.5 75.52 L99.62 76.3 L99.75 76.99 L99.88 77.45 L100 76.1 L100.12 75.13 L100.25 73.82 L100.38 72.92 L100.5 71.63 L100.62 70.63 L100.75 69.36 L100.88 68.32 L101 67.38 L101.12 66.04 L101.25 65 L101.38 63.91 L101.5 62.94 L101.62 62.43 L101.75 63.04 L101.88 63.33 L102 63.9 L102.12 64.67 L102.25 65.02 L102.38 65.3 L102.5 65.51 L102.62 65.86 L102.75 66.25 L102.88 66.46 L103 66.9 L103.12 67.3 L103.25 67.35 L103.38 67.94 L103.5 68.07 L103.62 68.25 L103.75 68.94 L103.88 69.66 L104 70.49 L104.12 71.05 L104.25 71.84 L104.38 72.47 L104.5 73.17 L104.62 73.94 L104.75 74.58 L104.88 75.57 L105 76.32 L105.12 76.9 L105.25 77.44 L105.38 76.5 L105.5 75.37 L105.62 74.36 L105.75 73.34 L105.88 72.32 L106 71.09 L106.12 70.03 L106.25 68.92 L106.38 68.02 L106.5 66.88 L106.62 65.91 L106.75 64.7 L106.88 63.76 L107 63.1 L107.12 63.5 L107.25 63.94 L107.38 64.4 L107.5 64.91 L107.62 65.69 L107.75 65.91 L107.88 66.2 L108 66.39 L108.12 66.7 L108.25 67.19 L108.38 67.36 L108.5 67.54 L108.62 67.97 L108.75 67.61 L108.88 67.83 L109 67.8 L109.12 68.46 L109.25 69.39 L109.38 69.9 L109.5 70.75 L109.62 71.42 L109.75 72.41 L109.88 73.03 L110 73.67 L110.12 74.53 L110.25 75.35 L110.38 76.09 L110.5 76.63 L110.62 77.61 L110.75 76.75 L110.88 75.68 L111 74.64 L111.12 73.47 L111.25 72.45 L111.38 71.26 L111.5 70 L111.62 68.94 L111.75 67.82 L111.88 66.96 L112 65.71 L112.12 64.6 L112.25 63.57 L112.38 62.42 L112.5 62.95 L112.62 63.45 L112.75 64.19 L112.88 64.68 L113 65.24 L113.12 65.41 L113.25 65.68 L113.38 66.03 L113.5 66.35 L113.62 66.77 L113.75 66.95 L113.88 67.22 L114 67.55 L114.12 67.62 L114.25 67.81 L114.38 67.9 L114.5 68.37 L114.62 69.03 L114.75 69.84 L114.88 70.66 L115 71.28 L115.12 72.22 L115.25 72.81 L115.38 73.55 L115.5 74.46 L115.62 74.96 L115.75 75.78 L115.88 76.54 L116 77.44 L116.12 76.94 L116.25 75.77 L116.38 74.86 L116.5 73.53 L116.62 72.4 L116.75 71.56 L116.88 70.44 L117 69.23 L117.12 68.17 L117.25 67.12 L117.38 65.84 L117.5 65.04 L117.62 63.67 L117.75 62.66 L117.88 63.1 L118 63.42 L118.12 63.88 L118.25 64.41 L118.38 64.96 L118.5 65.4 L118.62 65.64 L118.75 66.05 L118.88 66.24 L119 66.79 L119.12 66.92 L119.25 67.21 L119.38 67.55 L119.5 67.75 L119.62 67.78 L119.75 68.07 L119.88 68.46 L120 69.22 L120.12 69.68 L120.25 70.48 L120.38 71.32 L120.5 72.14 L120.62 72.67 L120.75 73.49 L120.88 74.09 L121 74.95 L121.12 75.61 L121.25 76.52 L121.38 77.18 L121.5 77.16 L121.62 76.04 L121.75 74.97 L121.88 73.82 L122 72.84 L122.12 71.82 L122.25 70.71 L122.38 69.62 L122.5 68.58 L122.62 67.38 L122.75 66.38 L122.88 65.35 L123 64 L123.12 63.14 L123.25 63.08 L123.38 63.38 L123.5 64.14 L123.62 64.64 L123.75 64.91 L123.88 65.52 L124 65.78 L124.12 66.2 L124.25 66.37 L124.38 66.63 L124.5 66.86 L124.62 67.43 L124.75 67.66 L124.88 67.66 L125 68.1 L125.12 68.16 L125.25 68.24 L125.38 69.07 L125.5 69.82 L125.62 70.57 L125.75 71.07 L125.88 71.85 L126 72.62 L126.12 73.35 L126.25 74.23 L126.38 74.76 L126.5 75.45 L126.62 76.19 L126.75 77.15 L126.88 77.28 L127 76.17 L127.12 75.16 L127.25 74.05 L127.38 73.19 L127.5 71.89 L127.62 71.05 L127.75 69.96 L127.88 68.63 L128 67.71 L128.12 66.58 L128.25 65.43 L128.38 64.61 L128.5 63.53 L128.62 62.93 L128.75 63.57 L128.88 63.94 L129 64.68 L129.12 65.13 L129.25 65.49 L129.38 65.87 L129.5 66.21 L129.62 66.33 L129.75 66.64 L129.88 67.18 L130 67.28 L130.12 67.65 L130.25 67.95 L130.38 67.63 L130.5 67.69 L130.62 67.88 L130.75 68.66 L130.88 69.19 L131 69.96 L131.12 70.69 L131.25 71.62 L131.38 72.33 L131.5 72.97 L131.62 73.94 L131.75 74.64 L131.88 75.52 L132 76.02 L132.12 76.98 L132.25 77.62 L132.38 76.32 L132.5 75.31 L132.62 74.29 L132.75 73.22 L132.88 72.02 L133 70.99 L133.12 69.95 L133.25 68.8 L133.38 67.55 L133.5 66.46 L133.62 65.51 L133.75 64.2 L133.88 63.11 L134 62.3 L134.12 62.85 L134.25 63.56 L134.38 63.9 L134.5 64.56 L134.62 65.12 L134.75 65.27 L134.88 65.64 L135 66.13 L135.12 66.31 L135.25 66.59 L135.38 66.86 L135.5 67.36 L135.62 67.45 L135.75 67.99 L135.88 68 L136 68.2 L136.12 68.91 L136.25 69.47 L136.38 70.26 L136.5 71.03 L136.62 71.79 L136.75 72.47 L136.88 73.15 L137 73.79 L137.12 74.59 L137.25 75.23 L137.38 75.95 L137.5 76.75 L137.62 77.48 L137.75 76.77 L137.88 75.66 L138 74.49 L138.12 73.44 L138.25 72.46 L138.38 71.29 L138.5 70.3 L138.62 69.33 L138.75 68.08 L138.88 67.03 L139 66.16 L139.12 65.11 L139.25 63.79 L139.38 63 L139.5 63.52 L139.62 64.05 L139.75 64.53 L139.88 64.9 L140 65.3 L140.12 65.64 L140.25 66 L140.38 66.33 L140.5 66.6 L140.62 66.9 L140.75 67.15 L140.88 67.69 L141 67.93 L141.12 67.7 L141.25 67.51 L141.38 67.65 L141.5 68.18 L141.62 69.13 L141.75 69.63 L141.88 70.63 L142 71.21 L142.12 72.13 L142.25 72.74 L142.38 73.65 L142.5 74.19 L142.62 75.12 L142.75 75.84 L142.88 76.51 L143 77.39 L143.12 76.98 L143.25 75.9 L143.38 74.74 L143.5 73.52 L143.62 72.45 L143.75 71.35 L143.88 70.27 L144 69.05 L144.12 67.88 L144.25 66.81 L144.38 65.75 L144.5 64.68 L144.62 63.46 L144.75 62.37 L144.88 62.73 L145 63.21 L145.12 63.71 L145.25 64.25 L145.38 64.81 L145.5 65.3 L145.62 65.56 L145.75 65.77 L145.88 66.1 L146 66.53 L146.12 66.85 L146.25 67.11 L146.38 67.45 L146.5 67.54 L146.62 67.49 L146.75 67.77 L146.88 67.99 L147 68.77 L147.12 69.69 L147.25 70.36 L147.38 71.23 L147.5 71.92 L147.62 72.7 L147.75 73.33 L147.88 74.14 L148 74.85 L148.12 75.69 L148.25 76.47 L148.38 77.26 L148.5 76.98 L148.62 76.03 L148.75 74.85 L148.88 73.86 L149 72.67 L149.12 71.67 L149.25 70.55 L149.38 69.19 L149.5 68.1 L149.62 67.18 L149.75 65.91 L149.88 64.91 L150 63.65 L150.12 62.52 L150.25 62.45 L150.38 63.08 L150.5 63.72 L150.62 64.21 L150.75 64.76 L150.88 65.01 L151 65.28 L151.12 65.59 L151.25 66.06 L151.38 66.22 L151.5 66.78 L151.62 66.95 L151.75 67.17 L151.88 67.42 L152 67.99 L152.12 68.22 L152.25 68.24 L152.38 69.23 L152.5 69.82 L152.62 70.4 L152.75 71.26 L152.88 72.04 L153 72.79 L153.12 73.58 L153.25 74.17 L153.38 74.82 L153.5 75.56 L153.62 76.41 L153.75 76.95 L153.88 77.48 L154 76.28 L154.12 75.23 L154.25 74.13 L154.38 73.05 L154.5 71.96 L154.62 71.07 L154.75 69.8 L154.88 68.95 L155 67.67 L155.12 66.64 L155.25 65.65 L155.38 64.54 L155.5 63.66 L155.62 63.17 L155.75 63.66 L155.88 64.25 L156 64.68 L156.12 65.1 L156.25 65.64 L156.38 65.89 L156.5 66.19 L156.62 66.61 L156.75 66.84 L156.88 67.24 L157 67.45 L157.12 67.9 L157.25 67.82 L157.38 67.62 L157.5 67.73 L157.62 67.65 L157.75 68.47 L157.88 69.27 L158 69.99 L158.12 70.68 L158.25 71.54 L158.38 72.19 L158.5 73.2 L158.62 73.9 L158.75 74.57 L158.88 75.33 L159 75.99 L159.12 77.01 L159.25 77.68 L159.38 76.38 L159.5 75.43 L159.62 74.21 L159.75 73.07 L159.88 72.02 L160 70.87 L160.12 69.91 L160.25 68.6 L160.38 67.59 L160.5 66.49 L160.62 65.27 L160.75 64.23 L160.88 63.05 L161 62.43 L161.12 62.96 L161.25 63.52 L161.38 63.97 L161.5 64.43 L161.62 64.96 L161.75 65.3 L161.88 65.78 L162 66.01 L162.12 66.26 L162.25 66.7 L162.38 66.81 L162.5 67.12 L162.62 67.37 L162.75 67.75 L162.88 67.71 L163 67.92 L163.12 68.49 L163.25 69.23 L163.38 69.99 L163.5 70.59 L163.62 71.63 L163.75 72.36 L163.88 73.1 L164 73.8 L164.12 74.53 L164.25 75.37 L164.38 75.85 L164.5 76.78 L164.62 77.43 L164.75 76.69 L164.88 75.43 L165 74.43 L165.12 73.38 L165.25 72.4 L165.38 71.32 L165.5 70 L165.62 68.96 L165.75 67.86 L165.88 66.92 L166 65.55 L166.12 64.59 L166.25 63.45 L166.38 62.56 L166.5 62.94 L166.62 63.39 L166.75 64.15 L166.88 64.42 L167 65.17 L167.12 65.4 L167.25 65.62 L167.38 65.98 L167.5 66.31 L167.62 66.72 L167.75 67.07 L167.88 67.31 L168 67.6 L168.12 68.08 L168.25 68.19 L168.38 68.24 L168.5 68.71 L168.62 69.49 L168.75 70.08 L168.88 70.78 L169 71.66 L169.12 72.24 L169.25 73.07 L169.38 73.74 L169.5 74.39 L169.62 75.23 L169.75 75.76 L169.88 76.58 L170 77.4 L170.12 76.84 L170.25 75.87 L170.38 74.81 L170.5 73.84 L170.62 72.58 L170.75 71.72 L170.88 70.67 L171 69.48 L171.12 68.54 L171.25 67.19 L171.38 66.23 L171.5 65.06 L171.62 64.26 L171.75 63.04 L171.88 63.16 L172 63.8 L172.12 64.3 L172.25 64.75 L172.38 65.21 L172.5 65.61 L172.62 65.95 L172.75 66.29 L172.88 66.5 L173 66.97 L173.12 67.32 L173.25 67.61 L173.38 67.77 L173.5 67.32 L173.62 67.55 L173.75 67.55 L173.88 67.82 L174 68.84 L174.12 69.46 L174.25 70.15 L174.38 71.18 L174.5 71.91 L174.62 72.51 L174.75 73.21 L174.88 73.97 L175 74.98 L175.12 75.62 L175.25 76.29 L175.38 77.03 L175.5 77.05 L175.62 75.89 L175.75 74.87 L175.88 73.58 L176 72.67 L176.12 71.36 L176.25 70.34 L176.38 69.16 L176.5 68.07 L176.62 66.94 L176.75 65.88 L176.88 64.8 L177 63.61 L177.12 62.38 L177.25 62.3 L177.38 62.92 L177.5 63.39 L177.62 64 L177.75 64.56 L177.88 65.13 L178 65.44 L178.12 65.64 L178.25 65.85 L178.38 66.19 L178.5 66.58 L178.62 66.92 L178.75 67.27 L178.88 67.5 L179 67.93 L179.12 68.07 L179.25 68.2 L179.38 69.11 L179.5 69.64 L179.62 70.56 L179.75 71.21 L179.88 72.07 L180 72.81 L180.12 73.49 L180.25 74.16 L180.38 74.92 L180.5 75.74 L180.62 76.42 L180.75 77.09 L180.88 77.22 L181 76.14 L181.12 75.31 L181.25 74.1 L181.38 73.19 L181.5 71.95 L181.62 70.81 L181.75 69.86 L181.88 68.91 L182 67.63 L182.12 66.67 L182.25 65.76 L182.38 64.51 L182.5 63.46 L182.62 63.05 L182.75 63.5 L182.88 64.11 L183 64.62 L183.12 65.18 L183.25 65.67 L183.38 65.87 L183.5 66.22 L183.62 66.57 L183.75 66.91 L183.88 67.05 L184 67.57 L184.12 67.66 L184.25 67.84 L184.38 67.94 L184.5 67.92 L184.62 67.99 L184.75 68.84 L184.88 69.59 L185 70.24" fill="none" stroke="#36aa3e" stroke-width="0.8" stroke-linejoin="round" />
<path d="M89.5 27.35 L89.62 26.93 L89.75 26.54 L89.88 25.95 L90 25.68 L90.12 25.06 L90.25 24.67 L90.38 24.25 L90.5 24.72 L90.62 25.28 L90.75 25.69 L90.88 26.15 L91 26.78 L91.12 27.27 L91.25 28 L91.38 28.46 L91.5 29.14 L91.62 29.75 L91.75 30.48 L91.88 31.29 L92 31.7 L92.12 32.32 L92.25 33.1 L92.38 33.48 L92.5 32.32 L92.62 31.39 L92.75 30.53 L92.88 29.34 L93 28.4 L93.12 27.27 L93.25 26.24 L93.38 25.35 L93.5 24.45 L93.62 23.42 L93.75 22.45 L93.88 21.37 L94 20.49 L94.12 20.03 L94.25 20.89 L94.38 21.69 L94.5 22.49 L94.62 23.27 L94.75 23.93 L94.88 24.41 L95 25.01 L95.12 25.46 L95.25 26.06 L95.38 26.7 L95.5 27.08 L95.62 27.82 L95.75 26.93 L95.88 26.29 L96 25.73 L96.12 25.21 L96.25 24.8 L96.38 24.31 L96.5 23.87 L96.62 23.84 L96.75 24.28 L96.88 24.66 L97 25.47 L97.12 25.85 L97.25 26.6 L97.38 27.12 L97.5 27.74 L97.62 28.68 L97.75 29.35 L97.88 29.83 L98 30.65 L98.12 31.26 L98.25 31.93 L98.38 32.64 L98.5 33.35 L98.62 32.89 L98.75 31.85 L98.88 30.78 L99 29.7 L99.12 28.83 L99.25 27.69 L99.38 26.69 L99.5 25.38 L99.62 24.52 L99.75 23.2 L99.88 22.29 L100 21.13 L100.12 20.17 L100.25 18.96 L100.38 19.38 L100.5 20.39 L100.62 21.13 L100.75 22.03 L100.88 23 L101 23.51 L101.12 24.19 L101.25 24.86 L101.38 25.15 L101.5 25.94 L101.62 26.39 L101.75 27.04 L101.88 27.09 L102 27.4 L102.12 26.93 L102.25 26.45 L102.38 25.89 L102.5 25.64 L102.62 25.18 L102.75 24.56 L102.88 24.88 L103 25.51 L103.12 26.02 L103.25 26.35 L103.38 26.92 L103.5 27.63 L103.62 28.21 L103.75 28.76 L103.88 29.25 L104 29.89 L104.12 30.51 L104.25 31.26 L104.38 31.9 L104.5 32.39 L104.62 32.89 L104.75 33.54 L104.88 32.76 L105 31.79 L105.12 30.74 L105.25 29.71 L105.38 28.95 L105.5 27.72 L105.62 27 L105.75 25.91 L105.88 25.08 L106 24.15 L106.12 23.2 L106.25 22.06 L106.38 21.29 L106.5 20.38 L106.62 21.25 L106.75 21.94 L106.88 22.75 L107 23.51 L107.12 24.47 L107.25 24.71 L107.38 25.33 L107.5 25.87 L107.62 26.42 L107.75 26.83 L107.88 27.49 L108 27.79 L108.12 27.11 L108.25 26.47 L108.38 25.93 L108.5 25.51 L108.62 25.18 L108.75 24.64 L108.88 24.09 L109 23.82 L109.12 24.35 L109.25 24.93 L109.38 25.23 L109.5 25.95 L109.62 26.33 L109.75 27.04 L109.88 27.73 L110 28.52 L110.12 29.04 L110.25 29.82 L110.38 30.53 L110.5 31.03 L110.62 31.96 L110.75 32.52 L110.88 33.04 L111 33.26 L111.12 32.19 L111.25 30.96 L111.38 30.06 L111.5 28.99 L111.62 27.79 L111.75 26.83 L111.88 25.71 L112 24.66 L112.12 23.77 L112.25 22.54 L112.38 21.55 L112.5 20.62 L112.62 19.43 L112.75 19.39 L112.88 20.31 L113 21.25 L113.12 21.95 L113.25 23.07 L113.38 23.69 L113.5 24.32 L113.62 24.76 L113.75 25.19 L113.88 25.75 L114 26.27 L114.12 27.06 L114.25 27.3 L114.38 27.29 L114.5 26.92 L114.62 26.47 L114.75 25.88 L114.88 25.38 L115 24.96 L115.12 24.51 L115.25 24.62 L115.38 25.33 L115.5 25.83 L115.62 26.11 L115.75 26.79 L115.88 27.37 L116 27.88 L116.12 28.45 L116.25 29.03 L116.38 29.79 L116.5 30.49 L116.62 31.12 L116.75 31.73 L116.88 32.26 L117 32.98 L117.12 33.57 L117.25 32.97 L117.38 31.99 L117.5 30.96 L117.62 29.79 L117.75 29.08 L117.88 27.82 L118 26.89 L118.12 25.87 L118.25 24.9 L118.38 24.21 L118.5 23.09 L118.62 22.22 L118.75 21.22 L118.88 20.3 L119 20.93 L119.12 21.64 L119.25 22.52 L119.38 23.23 L119.5 24.08 L119.62 24.54 L119.75 25.07 L119.88 25.47 L120 26.25 L120.12 26.77 L120.25 27.02 L120.38 27.59 L120.5 27 L120.62 26.25 L120.75 25.97 L120.88 25.26 L121 24.91 L121.12 24.39 L121.25 23.74 L121.38 23.19 L121.5 23.91 L121.62 24.31 L121.75 24.88 L121.88 25.37 L122 25.91 L122.12 26.74 L122.25 27.37 L122.38 28.01 L122.5 28.98 L122.62 29.67 L122.75 30.17 L122.88 30.88 L123 31.73 L123.12 32.4 L123.25 32.92 L123.38 33.36 L123.5 32.3 L123.62 31.2 L123.75 29.96 L123.88 29.08 L124 27.89 L124.12 26.92 L124.25 25.81 L124.38 24.59 L124.5 23.48 L124.62 22.32 L124.75 21.3 L124.88 20.09 L125 18.98 L125.12 18.58 L125.25 19.63 L125.38 20.57 L125.5 21.28 L125.62 22.35 L125.75 23.2 L125.88 23.66 L126 24.38 L126.12 24.84 L126.25 25.27 L126.38 25.98 L126.5 26.43 L126.62 27.2 L126.75 27.06 L126.88 26.51 L127 25.93 L127.12 25.57 L127.25 25.01 L127.38 24.68 L127.5 24.17 L127.62 24.1 L127.75 24.49 L127.88 25.15 L128 25.45 L128.12 26.23 L128.25 26.57 L128.38 27.4 L128.5 28.1 L128.62 28.6 L128.75 29.21 L128.88 29.91 L129 30.76 L129.12 31.36 L129.25 31.86 L129.38 32.73 L129.5 33.32 L129.62 32.91 L129.75 32.03 L129.88 30.92 L130 29.89 L130.12 28.77 L130.25 27.89 L130.38 26.69 L130.5 25.7 L130.62 24.62 L130.75 23.68 L130.88 22.46 L131 21.44 L131.12 20.56 L131.25 19.44 L131.38 19.67 L131.5 20.63 L131.62 21.37 L131.75 22.42 L131.88 23.33 L132 23.91 L132.12 24.56 L132.25 25.11 L132.38 25.65 L132.5 25.92 L132.62 26.73 L132.75 27.24 L132.88 27.34 L133 26.6 L133.12 25.96 L133.25 25.41 L133.38 24.94 L133.5 24.6 L133.62 24.1 L133.75 23.3 L133.88 23.74 L134 24.42 L134.12 24.97 L134.25 25.48 L134.38 26.02 L134.5 26.58 L134.62 27.25 L134.75 28.15 L134.88 28.71 L135 29.52 L135.12 30.13 L135.25 30.93 L135.38 31.47 L135.5 32.16 L135.62 32.89 L135.75 33.52 L135.88 32.47 L136 31.32 L136.12 30.49 L136.25 29.41 L136.38 28.11 L136.5 27.07 L136.62 26.15 L136.75 24.91 L136.88 23.96 L137 22.77 L137.12 21.7 L137.25 20.74 L137.38 19.41 L137.5 18.58 L137.62 19.59 L137.75 20.42 L137.88 21.41 L138 22.28 L138.12 23.15 L138.25 23.66 L138.38 24.33 L138.5 24.91 L138.62 25.38 L138.75 25.9 L138.88 26.42 L139 27.21 L139.12 27.6 L139.25 27.25 L139.38 26.85 L139.5 26.24 L139.62 25.64 L139.75 25.33 L139.88 24.87 L140 24.6 L140.12 25.25 L140.25 25.72 L140.38 26.18 L140.5 26.43 L140.62 27.23 L140.75 27.57 L140.88 28.39 L141 29.02 L141.12 29.54 L141.25 30.1 L141.38 30.84 L141.5 31.47 L141.62 31.93 L141.75 32.49 L141.88 33.3 L142 33.16 L142.12 32.38 L142.25 31.39 L142.38 30.44 L142.5 29.32 L142.62 28.3 L142.75 27.4 L142.88 26.61 L143 25.47 L143.12 24.62 L143.25 23.71 L143.38 22.62 L143.5 21.69 L143.62 20.71 L143.75 20.7 L143.88 21.36 L144 22.28 L144.12 23.04 L144.25 23.92 L144.38 24.52 L144.5 24.99 L144.62 25.57 L144.75 26.15 L144.88 26.48 L145 27.13 L145.12 27.59 L145.25 27.8 L145.38 27.65 L145.5 27.04 L145.62 26.83 L145.75 26.23 L145.88 25.74 L146 25.3 L146.12 24.94 L146.25 24.93 L146.38 25.55 L146.5 25.98 L146.62 26.55 L146.75 26.92 L146.88 27.57 L147 28.1 L147.12 28.83 L147.25 29.39 L147.38 29.91 L147.5 30.4 L147.62 31.16 L147.75 31.6 L147.88 32.42 L148 32.86 L148.12 33.47 L148.25 33.01 L148.38 31.93 L148.5 31.09 L148.62 30.01 L148.75 29.16 L148.88 28.05 L149 27.19 L149.12 26.32 L149.25 25.29 L149.38 24.4 L149.5 23.4 L149.62 22.67 L149.75 21.57 L149.88 20.82 L150 21.32 L150.12 22.23 L150.25 23.02 L150.38 23.65 L150.5 24.35 L150.62 24.96 L150.75 25.54 L150.88 25.8 L151 26.49 L151.12 27.05 L151.25 27.54 L151.38 28.02 L151.5 27.89 L151.62 27.45 L151.75 26.95 L151.88 26.58 L152 26.18 L152.12 25.66 L152.25 24.97 L152.38 24.66 L152.5 25.28 L152.62 25.69 L152.75 26.24 L152.88 26.49 L153 27.11 L153.12 27.65 L153.25 28.19 L153.38 28.82 L153.5 29.54 L153.62 30.06 L153.75 30.63 L153.88 31.31 L154 31.78 L154.12 32.39 L154.25 32.96 L154.38 33.42 L154.5 32.43 L154.62 31.62 L154.75 30.48 L154.88 29.75 L155 28.75 L155.12 27.71 L155.25 26.68 L155.38 25.72 L155.5 24.87 L155.62 24.11 L155.75 22.9 L155.88 21.99 L156 21.04 L156.12 20.77 L156.25 21.42 L156.38 22.29 L156.5 23 L156.62 23.91 L156.75 24.5 L156.88 25.21 L157 25.6 L157.12 26.16 L157.25 26.58 L157.38 27.04 L157.5 27.41 L157.62 28.06 L157.75 27.11 L157.88 26.39 L158 26.02 L158.12 25.52 L158.25 24.97 L158.38 24.38 L158.5 23.92 L158.62 23.99 L158.75 24.3 L158.88 25.1 L159 25.57 L159.12 26.13 L159.25 26.76 L159.38 27.3 L159.5 27.97 L159.62 28.62 L159.75 29.42 L159.88 29.92 L160 30.59 L160.12 31.22 L160.25 31.94 L160.38 32.52 L160.5 33.38 L160.62 32.85 L160.75 31.94 L160.88 31.03 L161 29.86 L161.12 28.75 L161.25 27.67 L161.38 26.63 L161.5 25.74 L161.62 24.62 L161.75 23.55 L161.88 22.49 L162 21.33 L162.12 20.26 L162.25 19.21 L162.38 19.57 L162.5 20.36 L162.62 21.3 L162.75 22.24 L162.88 23.1 L163 23.76 L163.12 24.21 L163.25 24.91 L163.38 25.38 L163.5 25.91 L163.62 26.5 L163.75 27.13 L163.88 27.19 L164 27.15 L164.12 26.61 L164.25 26.09 L164.38 25.52 L164.5 25.04 L164.62 24.63 L164.75 24.14 L164.88 24.41 L165 24.89 L165.12 25.45 L165.25 25.98 L165.38 26.64 L165.5 27.05 L165.62 27.75 L165.75 28.41 L165.88 29.15 L166 29.59 L166.12 30.43 L166.25 30.96 L166.38 31.78 L166.5 32.17 L166.62 33.02 L166.75 33.49 L166.88 32.55 L167 31.48 L167.12 30.49 L167.25 29.47 L167.38 28.67 L167.5 27.49 L167.62 26.49 L167.75 25.4 L167.88 24.66 L168 23.64 L168.12 22.53 L168.25 21.36 L168.38 20.52 L168.5 19.75 L168.62 20.64 L168.75 21.23 L168.88 22.28 L169 23.19 L169.12 23.86 L169.25 24.28 L169.38 24.91 L169.5 25.38 L169.62 26.07 L169.75 26.35 L169.88 26.96 L170 27.58 L170.12 26.64 L170.25 26.09 L170.38 25.43 L170.5 24.95 L170.62 24.33 L170.75 23.94 L170.88 23.39 L171 23.01 L171.12 23.58 L171.25 24.27 L171.38 24.71 L171.5 25.49 L171.62 26.09 L171.75 26.64 L171.88 27.47 L172 28 L172.12 28.97 L172.25 29.63 L172.38 30.22 L172.5 31.09 L172.62 31.82 L172.75 32.48 L172.88 33.15 L173 33.18 L173.12 32.08 L173.25 30.76 L173.38 29.75 L173.5 28.77 L173.62 27.52 L173.75 26.46 L173.88 25.12 L174 24.09 L174.12 22.95 L174.25 21.75 L174.38 20.83 L174.5 19.71 L174.62 18.54 L174.75 18.36 L174.88 19.28 L175 20.4 L175.12 21.32 L175.25 22.27 L175.38 22.8 L175.5 23.65 L175.62 24 L175.75 24.67 L175.88 25.34 L176 25.8 L176.12 26.61 L176.25 26.91 L176.38 26.77 L176.5 26.19 L176.62 25.55 L176.75 25.18 L176.88 24.63 L177 24.16 L177.12 23.37 L177.25 23.79 L177.38 24.35 L177.5 24.83 L177.62 25.32 L177.75 25.82 L177.88 26.42 L178 27.15 L178.12 27.95 L178.25 28.73 L178.38 29.43 L178.5 29.94 L178.62 30.54 L178.75 31.42 L178.88 32.2 L179 32.75 L179.12 33.45 L179.25 32.81 L179.38 31.7 L179.5 30.63 L179.62 29.57 L179.75 28.45 L179.88 27.17 L180 26.26 L180.12 25.24 L180.25 24 L180.38 22.82 L180.5 21.99 L180.62 20.86 L180.75 19.76 L180.88 18.61 L181 19.23 L181.12 20.28 L181.25 20.98 L181.38 22.02 L181.5 22.98 L181.62 23.59 L181.75 24.23 L181.88 24.82 L182 25.22 L182.12 25.8 L182.25 26.34 L182.38 26.96 L182.5 26.63 L182.62 26.11 L182.75 25.63 L182.88 24.99 L183 24.57 L183.12 23.88 L183.25 23.46 L183.38 23.02 L183.5 23.52 L183.62 24.12 L183.75 24.53 L183.88 25.24 L184 25.71 L184.12 26.58 L184.25 27.34 L184.38 27.85 L184.5 28.66 L184.62 29.57 L184.75 30.08 L184.88 30.9 L185 31.6 L185.12 32.38 L185.25 33.11 L185.38 33.25 L185.5 32.3 L185.62 31.19 L185.75 30.02 L185.88 28.78 L186 27.9 L186.12 26.59 L186.25 25.39 L186.38 24.3 L186.5 23.28 L186.62 22.18 L186.75 20.86 L186.88 19.73 L187 18.8 L187.12 18.32 L187.25 19.12 L187.38 20.03 L187.5 21.03 L187.62 21.9 L187.75 22.98 L187.88 23.45 L188 24.12 L188.12 24.62 L188.25 25.31 L188.38 25.83 L188.5 26.5 L188.62 26.99 L188.75 26.82 L188.88 26.21 L189 25.92 L189.12 25.2 L189.25 24.86 L189.38 24.13 L189.5 23.84 L189.62 23.83 L189.75 24.23 L189.88 24.75 L190 25.41 L190.12 25.87 L190.25 26.57 L190.38 27.18 L190.5 27.91 L190.62 28.4 L190.75 29.17 L190.88 29.89 L191 30.5 L191.12 31.38 L191.25 32.05 L191.38 32.49 L191.5 33.24 L191.62 33.02 L191.75 32.03 L191.88 30.7 L192 29.8 L192.12 28.82 L192.25 27.69 L192.38 26.44 L192.5 25.56 L192.62 24.23 L192.75 23.24 L192.88 22.14 L193 21.02 L193.12 19.96 L193.25 19.12 L193.38 19.21 L193.5 20.2 L193.62 21.1 L193.75 21.93 L193.88 22.94 L194 23.45 L194.12 24.03 L194.25 24.56 L194.38 25.14 L194.5 25.82 L194.62 26.48 L194.75 26.98 L194.88 27.19 L195 27.01 L195.12 26.44 L195.25 25.94 L195.38 25.43 L195.5 25.06 L195.62 24.46 L195.75 24.1 L195.88 24.24 L196 24.74 L196.12 25.44 L196.25 25.83 L196.38 26.31 L196.5 27.1 L196.62 27.73 L196.75 28.34 L196.88 29.16 L197 29.63 L197.12 30.43 L197.25 30.91 L197.38 31.66 L197.5 32.26 L197.62 33.02 L197.75 33.7 L197.88 32.58 L198 31.61 L198.12 30.59 L198.25 29.55 L198.38 28.61 L198.5 27.35 L198.62 26.47 L198.75 25.34 L198.88 24.38 L199 23.3 L199.12 22.49 L199.25 21.24 L199.38 20.42 L199.5 19.6 L199.62 20.3 L199.75 21.13 L199.88 21.99 L200 22.93 L200.12 23.84 L200.25 24.15 L200.38 24.8 L200.5 25.45 L200.62 25.98 L200.75 26.46 L200.88 26.85 L201 27.39 L201.12 27.12 L201.25 26.47 L201.38 26.21 L201.5 25.57 L201.62 24.96 L201.75 24.44 L201.88 23.9 L202 23.92 L202.12 24.2 L202.25 24.72 L202.38 25.26 L202.5 25.84 L202.62 26.35 L202.75 27.28 L202.88 27.86 L203 28.63 L203.12 29.17 L203.25 29.79 L203.38 30.36 L203.5 31.26 L203.62 31.91 L203.75 32.49 L203.88 33.27 L204 33.33 L204.12 32.01 L204.25 31.1 L204.38 30.11 L204.5 28.99 L204.62 27.94 L204.75 26.82 L204.88 25.88 L205 24.8 L205.12 23.73 L205.25 22.78 L205.38 21.64 L205.5 20.63 L205.62 19.45 L205.75 19.34 L205.88 20.32 L206 21.18 L206.12 22.12 L206.25 23 L206.38 23.8 L206.5 24.09 L206.62 24.72 L206.75 25.44 L206.88 25.9 L207 26.47 L207.12 27.1 L207.25 27.38 L207.38 27.38 L207.5 26.87 L207.62 26.45 L207.75 26.03 L207.88 25.45 L208 24.96 L208.12 24.41 L208.25 24.74 L208.38 25.23 L208.5 25.51 L208.62 26.16 L208.75 26.75 L208.88 27.1 L209 27.82 L209.12 28.36 L209.25 29.13 L209.38 29.59 L209.5 30.19 L209.62 31.1 L209.75 31.44 L209.88 32.33 L210 32.96 L210.12 33.36 L210.25 32.97 L210.38 31.84 L210.5 30.77 L210.62 30 L210.75 28.88 L210.88 27.88 L211 26.84 L211.12 26.07 L211.25 24.95 L211.38 23.97 L211.5 23.09 L211.62 21.93 L211.75 21 L211.88 20.14 L212 20.69 L212.12 21.55 L212.25 22.4 L212.38 23.26 L212.5 23.85 L212.62 24.48 L212.75 24.97 L212.88 25.52 L213 25.93 L213.12 26.5 L213.25 27.18 L213.38 27.54 L213.5 27.08 L213.62 26.54 L213.75 26.07 L213.88 25.51 L214 25.24 L214.12 24.46 L214.25 24.19 L214.38 23.48 L214.5 24.04 L214.62 24.78 L214.75 25.27 L214.88 25.85 L215 26.21 L215.12 26.9 L215.25 27.51 L215.38 28.26 L215.5 28.97 L215.62 29.62 L215.75 30.4 L215.88 31.1 L216 31.63 L216.12 32.29 L216.25 33.2 L216.38 33.29 L216.5 32.22 L216.62 31.26 L216.75 30.11 L216.88 29.11 L217 27.99 L217.12 26.93 L217.25 25.84 L217.38 25.07 L217.5 23.97 L217.62 22.71 L217.75 21.76 L217.88 20.8 L218 19.5 L218.12 19.12 L218.25 19.95 L218.38 20.78 L218.5 21.7 L218.62 22.67 L218.75 23.37 L218.88 24.04 L219 24.59 L219.12 25.24 L219.25 25.64 L219.38 26.24 L219.5 26.83 L219.62 27.26 L219.75 26.43 L219.88 25.98 L220 25.49 L220.12 24.91 L220.25 24.4 L220.38 23.72 L220.5 23.4 L220.62 23.25 L220.75 23.91 L220.88 24.49 L221 25.01 L221.12 25.55 L221.25 26.1 L221.38 26.88 L221.5 27.61 L221.62 28.38 L221.75 29.16 L221.88 29.71 L222 30.41 L222.12 31.23 L222.25 31.85 L222.38 32.52 L222.5 33.44 L222.62 32.83 L222.75 31.69 L222.88 30.58 L223 29.58 L223.12 28.52 L223.25 27.46 L223.38 26.1 L223.5 25.09 L223.62 23.92 L223.75 22.9 L223.88 21.65 L224 20.58 L224.12 19.38 L224.25 18.45 L224.38 18.71 L224.5 19.71 L224.62 20.58 L224.75 21.4 L224.88 22.3 L225 23.19 L225.12 23.61 L225.25 24.31 L225.38 24.95 L225.5 25.38 L225.62 26.11 L225.75 26.51 L225.88 26.85 L226 27.07 L226.12 26.61 L226.25 26.06 L226.38 25.64 L226.5 24.9 L226.62 24.38 L226.75 24 L226.88 24.28 L227 24.78 L227.12 25.42 L227.25 25.89 L227.38 26.39 L227.5 27.16 L227.62 27.76 L227.75 28.52 L227.88 29.01 L228 29.68 L228.12 30.37 L228.25 31.08 L228.38 31.66 L228.5 32.37 L228.62 32.79 L228.75 33.46 L228.88 32.66 L229 31.45 L229.12 30.65 L229.25 29.63 L229.38 28.37 L229.5 27.55 L229.62 26.6 L229.75 25.42 L229.88 24.33 L230 23.47 L230.12 22.49 L230.25 21.35 L230.38 20.45 L230.5 19.4 L230.62 20.27 L230.75 21.09 L230.88 22.11 L231 22.92 L231.12 23.81 L231.25 24.42 L231.38 24.87 L231.5 25.21 L231.62 25.87 L231.75 26.28 L231.88 26.94 L232 27.53 L232.12 27.69 L232.25 27.08 L232.38 26.71 L232.5 26.3 L232.62 25.88 L232.75 25.31 L232.88 24.87 L233 24.53 L233.12 25.19 L233.25 25.47 L233.38 26.05 L233.5 26.7" fill="none" stroke="#f24444" stroke-width="0.8" stroke-linejoin="round" />
<rect x="42.5" y="3.4" width="204.3" height="150.9" stroke="#000" stroke-width="1.4" fill="none" />
<text x="250.4" y="20.5" font-size="20.5" font-weight="bold" font-style="normal" text-anchor="start" fill="#000" textLength="24.6" lengthAdjust="spacingAndGlyphs" stroke="#000" stroke-width="0.3">(b)</text>
<line x1="291.6" y1="139.1" x2="294.2" y2="139.1" stroke="#000" stroke-width="1.1" />
<text x="288.6" y="142.3" font-size="9.3" font-weight="bold" font-style="normal" text-anchor="end" fill="#000" textLength="11.12" lengthAdjust="spacingAndGlyphs" stroke="#000" stroke-width="0.15">0.0</text>
<line x1="291.6" y1="76.15" x2="294.2" y2="76.15" stroke="#000" stroke-width="1.1" />
<text x="288.6" y="79.35" font-size="9.3" font-weight="bold" font-style="normal" text-anchor="end" fill="#000" textLength="11.12" lengthAdjust="spacingAndGlyphs" stroke="#000" stroke-width="0.15">0.2</text>
<line x1="291.6" y1="13.2" x2="294.2" y2="13.2" stroke="#000" stroke-width="1.1" />
<text x="288.6" y="16.4" font-size="9.3" font-weight="bold" font-style="normal" text-anchor="end" fill="#000" textLength="11.12" lengthAdjust="spacingAndGlyphs" stroke="#000" stroke-width="0.15">0.4</text>
<line x1="291.6" y1="107.62" x2="293.42" y2="107.62" stroke="#000" stroke-width="1" />
<line x1="291.6" y1="44.67" x2="293.42" y2="44.67" stroke="#000" stroke-width="1" />
<line x1="305.8" y1="154.6" x2="305.8" y2="152" stroke="#000" stroke-width="1.1" />
<text x="305.8" y="164.8" font-size="8.5" font-weight="bold" font-style="normal" text-anchor="middle" fill="#000" stroke="#000" stroke-width="0.15">0</text>
<line x1="365.4" y1="154.6" x2="365.4" y2="152" stroke="#000" stroke-width="1.1" />
<text x="365.4" y="164.8" font-size="8.5" font-weight="bold" font-style="normal" text-anchor="middle" fill="#000" stroke="#000" stroke-width="0.15">40</text>
<line x1="425" y1="154.6" x2="425" y2="152" stroke="#000" stroke-width="1.1" />
<text x="425" y="164.8" font-size="8.5" font-weight="bold" font-style="normal" text-anchor="middle" fill="#000" stroke="#000" stroke-width="0.15">80</text>
<line x1="484.6" y1="154.6" x2="484.6" y2="152" stroke="#000" stroke-width="1.1" />
<text x="484.6" y="164.8" font-size="8.5" font-weight="bold" font-style="normal" text-anchor="middle" fill="#000" stroke="#000" stroke-width="0.15">120</text>
<line x1="335.6" y1="154.6" x2="335.6" y2="152.78" stroke="#000" stroke-width="1" />
<line x1="395.2" y1="154.6" x2="395.2" y2="152.78" stroke="#000" stroke-width="1" />
<line x1="454.8" y1="154.6" x2="454.8" y2="152.78" stroke="#000" stroke-width="1" />
<text x="399.8" y="179" font-size="11.2" font-weight="bold" font-style="normal" text-anchor="middle" fill="#000" textLength="43.5" lengthAdjust="spacingAndGlyphs" stroke="#000" stroke-width="0.25">Time (s)</text>
<text x="0" y="0" font-size="10" font-weight="bold" font-style="normal" text-anchor="middle" fill="#000" textLength="27.6" lengthAdjust="spacingAndGlyphs" stroke="#000" stroke-width="0.2" transform="translate(270.3 74.6) rotate(-90)">&#916;<tspan font-style="italic">R/R</tspan><tspan font-style="italic" font-size="8" dy="1.6">0</tspan></text>
<text x="311" y="41.8" font-size="8.4" font-weight="normal" font-style="normal" text-anchor="start" fill="#1a1a1a" textLength="15" lengthAdjust="spacingAndGlyphs" stroke="#1a1a1a" stroke-width="0.2">2Hz</text>
<text x="348.2" y="43" font-size="8.4" font-weight="normal" font-style="normal" text-anchor="start" fill="#f01818" textLength="14" lengthAdjust="spacingAndGlyphs" stroke="#f01818" stroke-width="0.2">1Hz</text>
<text x="373.8" y="33.9" font-size="8.4" font-weight="normal" font-style="normal" text-anchor="start" fill="#2f6fd8" textLength="22.2" lengthAdjust="spacingAndGlyphs" stroke="#2f6fd8" stroke-width="0.2">0.5Hz</text>
<text x="412" y="29.8" font-size="8.4" font-weight="normal" font-style="normal" text-anchor="start" fill="#3aa060" textLength="22.2" lengthAdjust="spacingAndGlyphs" stroke="#3aa060" stroke-width="0.2">0.2Hz</text>
<text x="459.8" y="32.1" font-size="8.4" font-weight="normal" font-style="normal" text-anchor="start" fill="#a868d8" textLength="21.7" lengthAdjust="spacingAndGlyphs" stroke="#a868d8" stroke-width="0.2">0.1Hz</text>
<defs><linearGradient id="gg" x1="0" y1="0" x2="0" y2="1"><stop offset="0" stop-color="#747474"/><stop offset="0.45" stop-color="#8e8e8e"/><stop offset="1" stop-color="#adadad"/></linearGradient><linearGradient id="rg" x1="0" y1="0" x2="0" y2="1"><stop offset="0" stop-color="#f07a7a"/><stop offset="0.5" stop-color="#f49a9a"/><stop offset="1" stop-color="#f7b2b2"/></linearGradient></defs>
<path d="M306 48.81 L307 50.7 L308 49.03 L309 47.74 L310 49.52 L311 47.38 L312 47.36 L313 49.77 L314 50.93 L315 49.62 L316 47.63 L317 49.11 L318 47.76 L319 47.12 L320 48.76 L321 49.08 L322 49 L323 48.83 L324 50.99 L325 50.36 L326 48.26 L327 47.16 L328 49.07 L329 49.39 L330 49.83 L331 46 L332 49.64 L333 49.92 L334 46.29 L335 49.11 L336 46.35 L336 140.33 L335 140.08 L334 141.52 L333 140.59 L332 140.88 L331 139.84 L330 142.39 L329 140.55 L328 140.6 L327 139.28 L326 139.92 L325 141.83 L324 142.98 L323 140.11 L322 141.65 L321 141.56 L320 142.37 L319 140.86 L318 139.97 L317 139.24 L316 139.06 L315 141.46 L314 142.86 L313 139.17 L312 142.24 L311 140.21 L310 142.17 L309 141.05 L308 141.35 L307 140.86 L306 141.24 Z" fill="url(#gg)"/>
<line x1="334.46" y1="102.34" x2="334.46" y2="122.06" stroke="#d4d4d4" stroke-width="0.78" />
<line x1="306.82" y1="80.94" x2="306.82" y2="115.41" stroke="#d4d4d4" stroke-width="0.68" />
<line x1="312.03" y1="100.43" x2="312.03" y2="120.67" stroke="#7a7a7a" stroke-width="0.55" />
<line x1="318.7" y1="62.54" x2="318.7" y2="88.33" stroke="#6a6a6a" stroke-width="0.9" />
<line x1="307.07" y1="60.67" x2="307.07" y2="115.51" stroke="#5e5e5e" stroke-width="0.52" />
<line x1="310.74" y1="79.23" x2="310.74" y2="94.62" stroke="#6a6a6a" stroke-width="0.83" />
<line x1="317.7" y1="52.42" x2="317.7" y2="75.77" stroke="#5e5e5e" stroke-width="0.51" />
<line x1="317.19" y1="92.42" x2="317.19" y2="112.51" stroke="#7a7a7a" stroke-width="0.83" />
<line x1="310.44" y1="75.19" x2="310.44" y2="115.27" stroke="#6a6a6a" stroke-width="0.86" />
<line x1="330.22" y1="65.21" x2="330.22" y2="87.81" stroke="#5e5e5e" stroke-width="0.77" />
<line x1="317.76" y1="82.22" x2="317.76" y2="100.36" stroke="#c8c8c8" stroke-width="0.54" />
<line x1="307.62" y1="117.28" x2="307.62" y2="141.81" stroke="#7a7a7a" stroke-width="0.6" />
<line x1="330.39" y1="90.54" x2="330.39" y2="117.28" stroke="#d4d4d4" stroke-width="0.87" />
<line x1="334.84" y1="56.23" x2="334.84" y2="90.4" stroke="#5e5e5e" stroke-width="0.61" />
<line x1="333.1" y1="61.89" x2="333.1" y2="77.55" stroke="#6a6a6a" stroke-width="0.66" />
<line x1="313.72" y1="50.4" x2="313.72" y2="76.68" stroke="#5e5e5e" stroke-width="0.54" />
<line x1="310.51" y1="79.88" x2="310.51" y2="108.11" stroke="#5e5e5e" stroke-width="0.74" />
<line x1="333.28" y1="81.66" x2="333.28" y2="110.96" stroke="#bcbcbc" stroke-width="0.89" />
<line x1="307.12" y1="93.44" x2="307.12" y2="127.73" stroke="#bcbcbc" stroke-width="0.63" />
<line x1="335.48" y1="52.49" x2="335.48" y2="89.34" stroke="#5e5e5e" stroke-width="0.86" />
<line x1="327.88" y1="98.37" x2="327.88" y2="143" stroke="#bcbcbc" stroke-width="0.64" />
<line x1="326.37" y1="112.76" x2="326.37" y2="143" stroke="#7a7a7a" stroke-width="0.88" />
<line x1="307.38" y1="83.49" x2="307.38" y2="99.08" stroke="#7a7a7a" stroke-width="0.65" />
<line x1="306.86" y1="52.27" x2="306.86" y2="70.9" stroke="#5e5e5e" stroke-width="0.9" />
<line x1="332.01" y1="100.16" x2="332.01" y2="130.7" stroke="#7a7a7a" stroke-width="0.68" />
<line x1="330.81" y1="53.12" x2="330.81" y2="98.12" stroke="#5e5e5e" stroke-width="0.62" />
<line x1="309.04" y1="139" x2="309.04" y2="141.07" stroke="#9a9a9a" stroke-width="0.6" />
<line x1="334.26" y1="139" x2="334.26" y2="141.34" stroke="#9a9a9a" stroke-width="0.6" />
<line x1="329.12" y1="139" x2="329.12" y2="142.98" stroke="#9a9a9a" stroke-width="0.6" />
<line x1="320.6" y1="139" x2="320.6" y2="143.69" stroke="#9a9a9a" stroke-width="0.6" />
<line x1="317.17" y1="139" x2="317.17" y2="141.43" stroke="#9a9a9a" stroke-width="0.6" />
<line x1="324.24" y1="139" x2="324.24" y2="142.56" stroke="#9a9a9a" stroke-width="0.6" />
<line x1="328.36" y1="139" x2="328.36" y2="142.03" stroke="#9a9a9a" stroke-width="0.6" />
<line x1="333.48" y1="139" x2="333.48" y2="142.49" stroke="#9a9a9a" stroke-width="0.6" />
<line x1="313.5" y1="139" x2="313.5" y2="142.21" stroke="#9a9a9a" stroke-width="0.6" />
<line x1="313.77" y1="139" x2="313.77" y2="142.9" stroke="#9a9a9a" stroke-width="0.6" />
<path d="M336 53.87 L337 51.64 L338 51.71 L339 51.68 L340 52.2 L341 51.05 L342 54.53 L343 51.32 L344 54.33 L345 52.32 L346 53.39 L347 54.02 L348 52.09 L349 51.93 L350 53.41 L351 52.21 L352 52.99 L353 52.4 L354 53.75 L355 53.78 L356 54.54 L357 51.3 L358 53.27 L359 51.19 L360 53.95 L361 53.54 L362 52.88 L363 51.74 L364 52.9 L365 52.75 L366 51.49 L366 141.05 L365 141.49 L364 141.34 L363 140.84 L362 138.61 L361 140.77 L360 139.27 L359 139.09 L358 139.61 L357 140.11 L356 138.85 L355 140.89 L354 139.3 L353 139.07 L352 140.42 L351 140.45 L350 139.34 L349 140.32 L348 140.99 L347 140.37 L346 140.65 L345 140.06 L344 140.99 L343 139.91 L342 140.97 L341 138.69 L340 141.19 L339 138.9 L338 141.26 L337 139.14 L336 140.76 Z" fill="url(#rg)"/>
<line x1="336.78" y1="52.4" x2="336.78" y2="105.04" stroke="#ec3c3c" stroke-width="0.55" />
<line x1="338.11" y1="53.3" x2="338.11" y2="92.01" stroke="#ee4444" stroke-width="0.55" />
<line x1="339.55" y1="53.78" x2="339.55" y2="133.64" stroke="#f05050" stroke-width="0.55" />
<line x1="341.04" y1="54.11" x2="341.04" y2="92.5" stroke="#ec3c3c" stroke-width="0.55" />
<line x1="342.65" y1="54.69" x2="342.65" y2="136.38" stroke="#ee4444" stroke-width="0.55" />
<line x1="343.84" y1="55.1" x2="343.84" y2="139.81" stroke="#f05050" stroke-width="0.55" />
<line x1="345.41" y1="54.66" x2="345.41" y2="99.54" stroke="#ec3c3c" stroke-width="0.55" />
<line x1="346.99" y1="52.89" x2="346.99" y2="85.05" stroke="#f05050" stroke-width="0.55" />
<line x1="348.24" y1="53.19" x2="348.24" y2="96.79" stroke="#ee4444" stroke-width="0.55" />
<line x1="349.64" y1="54.97" x2="349.64" y2="106.16" stroke="#ee4444" stroke-width="0.55" />
<line x1="351.07" y1="52.84" x2="351.07" y2="128.06" stroke="#ee4444" stroke-width="0.55" />
<line x1="352.64" y1="55.5" x2="352.64" y2="134.93" stroke="#ec3c3c" stroke-width="0.55" />
<line x1="354.24" y1="54.26" x2="354.24" y2="137.69" stroke="#f05050" stroke-width="0.55" />
<line x1="355.58" y1="54.26" x2="355.58" y2="126.23" stroke="#f05050" stroke-width="0.55" />
<line x1="357.01" y1="52.66" x2="357.01" y2="124.46" stroke="#ec3c3c" stroke-width="0.55" />
<line x1="358.32" y1="53.56" x2="358.32" y2="135.34" stroke="#f05050" stroke-width="0.55" />
<line x1="359.82" y1="53.02" x2="359.82" y2="131.56" stroke="#ec3c3c" stroke-width="0.55" />
<line x1="361.23" y1="54.9" x2="361.23" y2="139.07" stroke="#ec3c3c" stroke-width="0.55" />
<line x1="362.71" y1="53.49" x2="362.71" y2="105.08" stroke="#ee4444" stroke-width="0.55" />
<line x1="364.25" y1="53.92" x2="364.25" y2="81.69" stroke="#ee4444" stroke-width="0.55" />
<line x1="351.45" y1="83.04" x2="351.45" y2="109.06" stroke="#fcd8d8" stroke-width="0.55" />
<line x1="352.76" y1="89.37" x2="352.76" y2="113.19" stroke="#fcd8d8" stroke-width="0.55" />
<line x1="338.85" y1="92.71" x2="338.85" y2="110.99" stroke="#fcd8d8" stroke-width="0.55" />
<line x1="363.79" y1="119.64" x2="363.79" y2="135.02" stroke="#fcd8d8" stroke-width="0.55" />
<line x1="350.25" y1="63.89" x2="350.25" y2="82.56" stroke="#fcd8d8" stroke-width="0.55" />
<line x1="359.84" y1="118.04" x2="359.84" y2="137.57" stroke="#fcd8d8" stroke-width="0.55" />
<line x1="345.88" y1="68.4" x2="345.88" y2="90.76" stroke="#fcd8d8" stroke-width="0.55" />
<line x1="362.91" y1="64.06" x2="362.91" y2="89.65" stroke="#fcd8d8" stroke-width="0.55" />
<line x1="337.64" y1="68.59" x2="337.64" y2="83.13" stroke="#fcd8d8" stroke-width="0.55" />
<line x1="356.24" y1="77.55" x2="356.24" y2="94.65" stroke="#fcd8d8" stroke-width="0.55" />
<line x1="354.35" y1="62.34" x2="354.35" y2="86.96" stroke="#fcd8d8" stroke-width="0.55" />
<line x1="340.44" y1="90.73" x2="340.44" y2="105.74" stroke="#fcd8d8" stroke-width="0.55" />
<line x1="342.54" y1="92.12" x2="342.54" y2="110.86" stroke="#fcd8d8" stroke-width="0.55" />
<line x1="347.52" y1="83.94" x2="347.52" y2="104.53" stroke="#fcd8d8" stroke-width="0.55" />
<path d="M365 140 L366.48 97.2 L367.95 140 Z" fill="#d8e6f8"/>
<path d="M367.95 140 L369.43 95.2 L370.9 140 Z" fill="#d8e6f8"/>
<path d="M370.9 140 L372.38 94.4 L373.85 140 Z" fill="#d8e6f8"/>
<path d="M373.85 140 L375.32 92.6 L376.8 140 Z" fill="#d8e6f8"/>
<path d="M376.8 140 L378.27 91.5 L379.75 140 Z" fill="#d8e6f8"/>
<path d="M379.75 140 L381.23 91.5 L382.7 140 Z" fill="#d8e6f8"/>
<path d="M382.7 140 L384.18 94.1 L385.65 140 Z" fill="#d8e6f8"/>
<path d="M385.65 140 L387.12 93.1 L388.6 140 Z" fill="#d8e6f8"/>
<path d="M388.6 140 L390.07 94.6 L391.55 140 Z" fill="#d8e6f8"/>
<path d="M391.55 140 L393.02 90 L394.5 140 Z" fill="#d8e6f8"/>
<path d="M365 139.5 L366.48 47.2 L367.95 138.87 L369.43 45.2 L370.9 138.97 L372.38 44.4 L373.85 139.95 L375.32 42.6 L376.8 139.97 L378.27 41.5 L379.75 139.72 L381.23 41.5 L382.7 140.46 L384.18 44.1 L385.65 139.91 L387.12 43.1 L388.6 140.47 L390.07 44.6 L391.55 139.04 L393.02 40 L394.5 140.2" fill="none" stroke="#4a88e0" stroke-width="0.55" stroke-linejoin="round" />
<path d="M394.5 139.5 L395.7 115.87 L396.9 92.07 L398.1 67.73 L399.3 44 L400.53 75.65 L401.77 107.94 L403 139.4 L404 114.57 L405 90.6 L406 65.91 L407 41 L408.02 64.91 L409.05 89.19 L410.08 113.78 L411.1 137.8 L412.37 103.97 L413.63 70.21 L414.9 36.9 L416.07 62.02 L417.25 86.54 L418.43 111.68 L419.6 136.3 L420.83 103.17 L422.07 70.56 L423.3 37.8 L424.32 63.12 L425.35 87.76 L426.38 113.09 L427.4 138.5" fill="none" stroke="#5cb884" stroke-width="0.6" stroke-linejoin="round" />
<path d="M427.4 138.5 L428.57 117.46 L429.73 96.45 L430.9 75 L432.1 66.49 L433.3 57.06 L434.5 48.5 L435.3 47.4 L436.53 63.27 L437.77 79.31 L439 95 L440.05 106.55 L441.1 118.23 L442.15 129.43 L443.2 141.2 L444.6 117.8 L446 95 L447.2 79.72 L448.4 64.68 L449.6 50 L450.2 48.8 L451.47 64.24 L452.73 79.61 L454 95 L455.3 111.31 L456.6 127.29 L457.9 143.8 L459.1 125.65 L460.3 107.73 L461.5 90 L462.6 76.07 L463.7 62.01 L464.8 47.5 L465.5 46.6 L466.67 61.37 L467.83 75.25 L469 90 L470.02 101.82 L471.05 114.57 L472.08 126.35 L473.1 138.5 L474.4 122.52 L475.7 106.05 L477 90 L478.2 75.81 L479.4 61.68 L480.6 47.5 L481.2 46.6 L482.47 61.02 L483.73 75.6 L485 90 L486.23 105.03 L487.47 120.87 L488.7 136.1" fill="none" stroke="#bb88e8" stroke-width="0.6" stroke-linejoin="round" />
<rect x="291.6" y="3.4" width="215.4" height="151.2" stroke="#000" stroke-width="1.4" fill="none" />
<text x="0" y="202.3" font-size="20.5" font-weight="bold" font-style="normal" text-anchor="start" fill="#000" textLength="23.6" lengthAdjust="spacingAndGlyphs" stroke="#000" stroke-width="0.3">(c)</text>
<line x1="42.8" y1="334.2" x2="45.4" y2="334.2" stroke="#000" stroke-width="1.1" />
<text x="39.8" y="337.4" font-size="9.3" font-weight="bold" font-style="normal" text-anchor="end" fill="#000" textLength="11.12" lengthAdjust="spacingAndGlyphs" stroke="#000" stroke-width="0.15">0.0</text>
<line x1="42.8" y1="271.45" x2="45.4" y2="271.45" stroke="#000" stroke-width="1.1" />
<text x="39.8" y="274.65" font-size="9.3" font-weight="bold" font-style="normal" text-anchor="end" fill="#000" textLength="11.12" lengthAdjust="spacingAndGlyphs" stroke="#000" stroke-width="0.15">0.3</text>
<line x1="42.8" y1="208.7" x2="45.4" y2="208.7" stroke="#000" stroke-width="1.1" />
<text x="39.8" y="211.9" font-size="9.3" font-weight="bold" font-style="normal" text-anchor="end" fill="#000" textLength="11.12" lengthAdjust="spacingAndGlyphs" stroke="#000" stroke-width="0.15">0.6</text>
<line x1="42.8" y1="302.82" x2="44.62" y2="302.82" stroke="#000" stroke-width="1" />
<line x1="42.8" y1="240.07" x2="44.62" y2="240.07" stroke="#000" stroke-width="1" />
<line x1="61.6" y1="338.5" x2="61.6" y2="335.9" stroke="#000" stroke-width="1.1" />
<text x="61.6" y="348.6" font-size="8.5" font-weight="bold" font-style="normal" text-anchor="middle" fill="#000" stroke="#000" stroke-width="0.15">0.0</text>
<line x1="117.7" y1="338.5" x2="117.7" y2="335.9" stroke="#000" stroke-width="1.1" />
<text x="117.7" y="348.6" font-size="8.5" font-weight="bold" font-style="normal" text-anchor="middle" fill="#000" stroke="#000" stroke-width="0.15">0.3</text>
<line x1="173.8" y1="338.5" x2="173.8" y2="335.9" stroke="#000" stroke-width="1.1" />
<text x="173.8" y="348.6" font-size="8.5" font-weight="bold" font-style="normal" text-anchor="middle" fill="#000" stroke="#000" stroke-width="0.15">0.6</text>
<line x1="229.9" y1="338.5" x2="229.9" y2="335.9" stroke="#000" stroke-width="1.1" />
<text x="229.9" y="348.6" font-size="8.5" font-weight="bold" font-style="normal" text-anchor="middle" fill="#000" stroke="#000" stroke-width="0.15">0.9</text>
<line x1="89.65" y1="338.5" x2="89.65" y2="336.68" stroke="#000" stroke-width="1" />
<line x1="145.75" y1="338.5" x2="145.75" y2="336.68" stroke="#000" stroke-width="1" />
<line x1="201.85" y1="338.5" x2="201.85" y2="336.68" stroke="#000" stroke-width="1" />
<text x="145.8" y="365.1" font-size="11.2" font-weight="bold" font-style="normal" text-anchor="middle" fill="#000" textLength="41" lengthAdjust="spacingAndGlyphs" stroke="#000" stroke-width="0.25">Time (s)</text>
<text x="0" y="0" font-size="10" font-weight="bold" font-style="normal" text-anchor="middle" fill="#000" textLength="27.6" lengthAdjust="spacingAndGlyphs" stroke="#000" stroke-width="0.2" transform="translate(24.4 258.3) rotate(-90)">&#916;<tspan font-style="italic">R/R</tspan><tspan font-style="italic" font-size="8" dy="1.6">0</tspan></text>
<rect x="85.3" y="188.6" width="18.6" height="65.7" stroke="none" stroke-width="0" fill="#f9bcbc" />
<rect x="58.3" y="188.6" width="77.4" height="65.7" stroke="#333" stroke-width="0.8" fill="none" />
<line x1="64" y1="254.3" x2="64" y2="253" stroke="#333" stroke-width="0.5" />
<line x1="75.5" y1="254.3" x2="75.5" y2="253" stroke="#333" stroke-width="0.5" />
<line x1="87" y1="254.3" x2="87" y2="253" stroke="#333" stroke-width="0.5" />
<line x1="98.5" y1="254.3" x2="98.5" y2="253" stroke="#333" stroke-width="0.5" />
<line x1="110" y1="254.3" x2="110" y2="253" stroke="#333" stroke-width="0.5" />
<line x1="121.5" y1="254.3" x2="121.5" y2="253" stroke="#333" stroke-width="0.5" />
<line x1="133.5" y1="254.3" x2="133.5" y2="253" stroke="#333" stroke-width="0.5" />
<line x1="58.3" y1="247.6" x2="59.6" y2="247.6" stroke="#333" stroke-width="0.5" />
<line x1="58.3" y1="231" x2="59.6" y2="231" stroke="#333" stroke-width="0.5" />
<line x1="58.3" y1="214" x2="59.6" y2="214" stroke="#333" stroke-width="0.5" />
<line x1="58.3" y1="197.5" x2="59.6" y2="197.5" stroke="#333" stroke-width="0.5" />
<text x="64" y="258.2" font-size="3.2" font-weight="bold" font-style="normal" text-anchor="middle" fill="#333" >0.0</text>
<text x="87" y="258.2" font-size="3.2" font-weight="bold" font-style="normal" text-anchor="middle" fill="#333" >0.2</text>
<text x="110" y="258.2" font-size="3.2" font-weight="bold" font-style="normal" text-anchor="middle" fill="#333" >0.4</text>
<text x="133.5" y="258.2" font-size="3.2" font-weight="bold" font-style="normal" text-anchor="middle" fill="#333" >0.6</text>
<text x="0" y="0" font-size="3.4" font-weight="bold" font-style="normal" text-anchor="middle" fill="#333" transform="translate(55.6 247.6) rotate(-90)">0.0</text>
<text x="0" y="0" font-size="3.4" font-weight="bold" font-style="normal" text-anchor="middle" fill="#333" transform="translate(55.6 213) rotate(-90)">0.2</text>
<text x="97" y="263.3" font-size="3.4" font-weight="bold" font-style="normal" text-anchor="middle" fill="#222" >Time(s)</text>
<text x="0" y="0" font-size="3.2" font-weight="bold" font-style="normal" text-anchor="middle" fill="#222" transform="translate(52.6 222.6) rotate(-90)">&#916;R/R</text>
<path d="M64.4 247.7 L65.89 247.75 L68.02 247.81 L70.47 247.89 L72.9 247.95 L75 248 L76.78 248.07 L78.45 248.16 L80 248.22 L81.39 248.19 L82.6 248 L83.56 247.68 L84.3 247.28 L84.9 246.75 L85.47 246.04 L86.1 245.1 L86.8 243.9 L87.5 242.46 L88.2 240.85 L88.9 239.11 L89.6 237.3 L90.3 235.37 L91 233.29 L91.7 231.12 L92.4 228.94 L93.1 226.8 L93.8 224.72 L94.5 222.64 L95.2 220.56 L95.9 218.48 L96.6 216.4 L97.31 214.22 L98.04 211.94 L98.76 209.71 L99.46 207.65 L100.1 205.9 L100.66 204.5 L101.16 203.37 L101.64 202.43 L102.14 201.63 L102.7 200.9 L103.3 200.25 L103.91 199.74 L104.57 199.32 L105.32 198.99 L106.2 198.7 L107.23 198.48 L108.38 198.35 L109.62 198.28 L110.94 198.23 L112.3 198.2 L113.75 198.18 L115.29 198.19 L116.89 198.22 L118.47 198.26 L120 198.3 L121.57 198.35 L123.22 198.42 L124.8 198.49 L126.14 198.56 L127.1 198.6" fill="none" stroke="#f22424" stroke-width="1.1" stroke-linejoin="round" />
<text x="59.6" y="205.6" font-size="9.4" font-weight="normal" font-style="normal" text-anchor="start" fill="#f01818" textLength="27.2" lengthAdjust="spacingAndGlyphs" stroke="#f01818" stroke-width="0.2">136ms</text>
<rect x="195.1" y="189.3" width="19.7" height="65.7" stroke="none" stroke-width="0" fill="#b8def8" />
<rect x="163" y="189.3" width="80.8" height="65.7" stroke="#333" stroke-width="0.8" fill="none" />
<line x1="170.5" y1="255.3" x2="170.5" y2="254" stroke="#333" stroke-width="0.5" />
<line x1="181.5" y1="255.3" x2="181.5" y2="254" stroke="#333" stroke-width="0.5" />
<line x1="192.5" y1="255.3" x2="192.5" y2="254" stroke="#333" stroke-width="0.5" />
<line x1="203.5" y1="255.3" x2="203.5" y2="254" stroke="#333" stroke-width="0.5" />
<line x1="214.5" y1="255.3" x2="214.5" y2="254" stroke="#333" stroke-width="0.5" />
<line x1="225.5" y1="255.3" x2="225.5" y2="254" stroke="#333" stroke-width="0.5" />
<line x1="236.5" y1="255.3" x2="236.5" y2="254" stroke="#333" stroke-width="0.5" />
<line x1="162.8" y1="250.5" x2="164.1" y2="250.5" stroke="#333" stroke-width="0.5" />
<line x1="162.8" y1="233" x2="164.1" y2="233" stroke="#333" stroke-width="0.5" />
<line x1="162.8" y1="215.5" x2="164.1" y2="215.5" stroke="#333" stroke-width="0.5" />
<line x1="162.8" y1="198" x2="164.1" y2="198" stroke="#333" stroke-width="0.5" />
<text x="181.5" y="259" font-size="3.2" font-weight="bold" font-style="normal" text-anchor="middle" fill="#333" >0.4</text>
<text x="203.5" y="259" font-size="3.2" font-weight="bold" font-style="normal" text-anchor="middle" fill="#333" >0.6</text>
<text x="225.5" y="259" font-size="3.2" font-weight="bold" font-style="normal" text-anchor="middle" fill="#333" >0.8</text>
<text x="243.5" y="259" font-size="3.2" font-weight="bold" font-style="normal" text-anchor="middle" fill="#333" >1.0</text>
<text x="0" y="0" font-size="3.4" font-weight="bold" font-style="normal" text-anchor="middle" fill="#333" transform="translate(160.3 250.6) rotate(-90)">0.0</text>
<text x="0" y="0" font-size="3.4" font-weight="bold" font-style="normal" text-anchor="middle" fill="#333" transform="translate(160.3 215.5) rotate(-90)">0.2</text>
<text x="204" y="264" font-size="3.4" font-weight="bold" font-style="normal" text-anchor="middle" fill="#222" >Time(s)</text>
<text x="0" y="0" font-size="3.2" font-weight="bold" font-style="normal" text-anchor="middle" fill="#222" transform="translate(157 223.3) rotate(-90)">&#916;R/R</text>
<path d="M173.5 199.8 L174.38 199.66 L175.59 199.46 L177.05 199.24 L178.71 199.04 L180.5 198.9 L182.62 198.8 L185.13 198.71 L187.7 198.66 L190.03 198.71 L191.8 198.9 L192.89 199.21 L193.51 199.62 L193.84 200.15 L194.08 200.8 L194.4 201.6 L194.78 202.53 L195.1 203.59 L195.4 204.79 L195.72 206.15 L196.1 207.7 L196.56 209.53 L197.07 211.63 L197.61 213.86 L198.16 216.06 L198.7 218.1 L199.22 219.95 L199.74 221.7 L200.26 223.39 L200.81 225.08 L201.4 226.8 L202.03 228.6 L202.7 230.44 L203.4 232.27 L204.1 234.01 L204.8 235.6 L205.48 237.01 L206.15 238.28 L206.83 239.45 L207.54 240.58 L208.3 241.7 L209.14 242.84 L210.04 243.97 L210.96 245.05 L211.86 246.04 L212.7 246.9 L213.44 247.61 L214.13 248.21 L214.79 248.71 L215.46 249.13 L216.2 249.5 L216.85 249.8 L217.4 250.02 L218.04 250.17 L219.01 250.29 L220.5 250.4 L222.9 250.49 L226.07 250.54 L229.44 250.57 L232.44 250.58 L234.5 250.6" fill="none" stroke="#1a6eb8" stroke-width="1.2" stroke-linejoin="round" />
<text x="213.6" y="206" font-size="9.4" font-weight="normal" font-style="normal" text-anchor="start" fill="#1a5a98" textLength="29" lengthAdjust="spacingAndGlyphs" stroke="#1a5a98" stroke-width="0.2">154ms</text>
<path d="M61.6 338.3 L61.33 338 L60.73 337.55 L60.14 337.04 L59.87 336.53 L60.25 336.09 L61.6 335.8 L64.36 335.68 L68.35 335.68 L72.99 335.75 L77.7 335.86 L81.89 335.95 L85 336 L86.92 336.01 L88.09 336.03 L88.74 336.03 L89.13 336.02 L89.47 335.98 L90 335.9 L90.67 335.79 L91.27 335.66 L91.83 335.5 L92.37 335.31 L92.92 335.08 L93.5 334.8 L94.08 334.55 L94.63 334.36 L95.18 334.12 L95.77 333.76 L96.44 333.18 L97.2 332.3 L98.09 331.12 L99.09 329.7 L100.15 328.06 L101.25 326.24 L102.34 324.24 L103.4 322.1 L104.42 319.75 L105.44 317.16 L106.46 314.39 L107.47 311.53 L108.48 308.65 L109.5 305.8 L110.52 302.9 L111.53 299.87 L112.55 296.81 L113.57 293.83 L114.58 291.02 L115.6 288.5 L116.62 286.24 L117.63 284.14 L118.64 282.23 L119.66 280.5 L120.68 278.95 L121.7 277.6 L122.72 276.47 L123.73 275.57 L124.74 274.86 L125.76 274.29 L126.81 273.82 L127.9 273.4 L128.83 273.07 L129.57 272.88 L130.32 272.78 L131.33 272.74 L132.82 272.73 L135 272.7 L138.28 272.63 L142.54 272.55 L147.29 272.49 L151.99 272.49 L156.13 272.58 L159.2 272.8 L161.06 273.14 L162.1 273.59 L162.57 274.13 L162.76 274.74 L162.91 275.44 L163.3 276.2 L163.86 277.02 L164.38 277.92 L164.86 278.89 L165.33 279.94 L165.81 281.07 L166.3 282.3 L166.81 283.67 L167.33 285.17 L167.85 286.77 L168.37 288.39 L168.89 289.99 L169.4 291.5 L169.89 292.9 L170.37 294.23 L170.84 295.54 L171.32 296.86 L171.84 298.23 L172.4 299.7 L173.01 301.3 L173.65 303.01 L174.32 304.77 L175.02 306.54 L175.75 308.27 L176.5 309.9 L177.29 311.47 L178.13 313.03 L178.99 314.54 L179.86 315.98 L180.74 317.31 L181.6 318.5 L182.44 319.5 L183.26 320.34 L184.08 321.07 L184.92 321.75 L185.79 322.44 L186.7 323.2 L187.68 324.03 L188.73 324.89 L189.8 325.76 L190.87 326.63 L191.92 327.48 L192.9 328.3 L193.81 329.12 L194.68 329.95 L195.52 330.77 L196.34 331.54 L197.16 332.22 L198 332.8 L198.83 333.25 L199.63 333.59 L200.44 333.86 L201.27 334.06 L202.15 334.24 L203.1 334.4 L203.96 334.54 L204.66 334.64 L205.41 334.71 L206.42 334.76 L207.88 334.78 L210 334.8 L213.2 334.8 L217.41 334.77 L222.08 334.73 L226.65 334.67 L230.58 334.63 L233.3 334.6" fill="none" stroke="#000" stroke-width="1.5" stroke-linejoin="round" />
<rect x="93.6" y="278.3" width="27.2" height="57" stroke="#f02020" stroke-width="1.5" fill="none" stroke-dasharray="1.8 4.2"/>
<rect x="169" y="278.6" width="27.5" height="56.6" stroke="#1a80c8" stroke-width="1.5" fill="none" stroke-dasharray="1.8 4.2"/>
<line x1="106.4" y1="278.9" x2="100.27" y2="269.13" stroke="#f02020" stroke-width="1.2" />
<path d="M98.3 266 L102.4 268.39 L98.67 270.73 Z" fill="#f02020"/>
<line x1="180.6" y1="278.7" x2="192.52" y2="267.35" stroke="#1a70b8" stroke-width="1.2" />
<path d="M195.2 264.8 L193.68 269.29 L190.64 266.1 Z" fill="#1a70b8"/>
<rect x="42.8" y="187.4" width="205.6" height="151.1" stroke="#000" stroke-width="1.4" fill="none" />
<text x="252.3" y="202.5" font-size="20.5" font-weight="bold" font-style="normal" text-anchor="start" fill="#000" textLength="24" lengthAdjust="spacingAndGlyphs" stroke="#000" stroke-width="0.3">(d)</text>
<line x1="291.7" y1="323.8" x2="294.3" y2="323.8" stroke="#000" stroke-width="1.1" />
<text x="288.7" y="327" font-size="9.3" font-weight="bold" font-style="normal" text-anchor="end" fill="#000" textLength="11.12" lengthAdjust="spacingAndGlyphs" stroke="#000" stroke-width="0.15">0.0</text>
<line x1="291.7" y1="293.55" x2="294.3" y2="293.55" stroke="#000" stroke-width="1.1" />
<text x="288.7" y="296.75" font-size="9.3" font-weight="bold" font-style="normal" text-anchor="end" fill="#000" textLength="11.12" lengthAdjust="spacingAndGlyphs" stroke="#000" stroke-width="0.15">0.1</text>
<line x1="291.7" y1="263.3" x2="294.3" y2="263.3" stroke="#000" stroke-width="1.1" />
<text x="288.7" y="266.5" font-size="9.3" font-weight="bold" font-style="normal" text-anchor="end" fill="#000" textLength="11.12" lengthAdjust="spacingAndGlyphs" stroke="#000" stroke-width="0.15">0.2</text>
<line x1="291.7" y1="233.05" x2="294.3" y2="233.05" stroke="#000" stroke-width="1.1" />
<text x="288.7" y="236.25" font-size="9.3" font-weight="bold" font-style="normal" text-anchor="end" fill="#000" textLength="11.12" lengthAdjust="spacingAndGlyphs" stroke="#000" stroke-width="0.15">0.3</text>
<line x1="291.7" y1="202.8" x2="294.3" y2="202.8" stroke="#000" stroke-width="1.1" />
<text x="288.7" y="206" font-size="9.3" font-weight="bold" font-style="normal" text-anchor="end" fill="#000" textLength="11.12" lengthAdjust="spacingAndGlyphs" stroke="#000" stroke-width="0.15">0.4</text>
<line x1="291.7" y1="308.68" x2="293.52" y2="308.68" stroke="#000" stroke-width="1" />
<line x1="291.7" y1="278.43" x2="293.52" y2="278.43" stroke="#000" stroke-width="1" />
<line x1="291.7" y1="248.18" x2="293.52" y2="248.18" stroke="#000" stroke-width="1" />
<line x1="291.7" y1="217.93" x2="293.52" y2="217.93" stroke="#000" stroke-width="1" />
<line x1="291.7" y1="187.68" x2="293.52" y2="187.68" stroke="#000" stroke-width="1" />
<line x1="315.6" y1="338.6" x2="315.6" y2="336" stroke="#000" stroke-width="1.1" />
<text x="315.6" y="349.2" font-size="8.5" font-weight="bold" font-style="normal" text-anchor="middle" fill="#000" stroke="#000" stroke-width="0.15">0</text>
<line x1="363.5" y1="338.6" x2="363.5" y2="336" stroke="#000" stroke-width="1.1" />
<text x="363.5" y="349.2" font-size="8.5" font-weight="bold" font-style="normal" text-anchor="middle" fill="#000" stroke="#000" stroke-width="0.15">2</text>
<line x1="411.4" y1="338.6" x2="411.4" y2="336" stroke="#000" stroke-width="1.1" />
<text x="411.4" y="349.2" font-size="8.5" font-weight="bold" font-style="normal" text-anchor="middle" fill="#000" stroke="#000" stroke-width="0.15">4</text>
<line x1="459.3" y1="338.6" x2="459.3" y2="336" stroke="#000" stroke-width="1.1" />
<text x="459.3" y="349.2" font-size="8.5" font-weight="bold" font-style="normal" text-anchor="middle" fill="#000" stroke="#000" stroke-width="0.15">6</text>
<line x1="507.2" y1="338.6" x2="507.2" y2="336" stroke="#000" stroke-width="1.1" />
<text x="507.2" y="349.2" font-size="8.5" font-weight="bold" font-style="normal" text-anchor="middle" fill="#000" stroke="#000" stroke-width="0.15">8</text>
<line x1="339.55" y1="338.6" x2="339.55" y2="336.78" stroke="#000" stroke-width="1" />
<line x1="387.45" y1="338.6" x2="387.45" y2="336.78" stroke="#000" stroke-width="1" />
<line x1="435.35" y1="338.6" x2="435.35" y2="336.78" stroke="#000" stroke-width="1" />
<line x1="483.25" y1="338.6" x2="483.25" y2="336.78" stroke="#000" stroke-width="1" />
<text x="401.5" y="361.6" font-size="11.2" font-weight="bold" font-style="normal" text-anchor="middle" fill="#000" textLength="40.5" lengthAdjust="spacingAndGlyphs" stroke="#000" stroke-width="0.25">Time (s)</text>
<text x="0" y="0" font-size="10" font-weight="bold" font-style="normal" text-anchor="middle" fill="#000" textLength="27.6" lengthAdjust="spacingAndGlyphs" stroke="#000" stroke-width="0.2" transform="translate(271.9 262.7) rotate(-90)">&#916;<tspan font-style="italic">R/R</tspan><tspan font-style="italic" font-size="8" dy="1.6">0</tspan></text>
<line x1="507.4" y1="323.6" x2="510" y2="323.6" stroke="#000" stroke-width="1.1" />
<text x="512" y="326.5" font-size="8.4" font-weight="bold" font-style="normal" text-anchor="start" fill="#000" stroke="#000" stroke-width="0.18">0</text>
<line x1="507.4" y1="283.8" x2="510" y2="283.8" stroke="#000" stroke-width="1.1" />
<text x="512" y="286.7" font-size="8.4" font-weight="bold" font-style="normal" text-anchor="start" fill="#000" stroke="#000" stroke-width="0.18">5</text>
<line x1="507.4" y1="244" x2="510" y2="244" stroke="#000" stroke-width="1.1" />
<text x="512" y="246.9" font-size="8.4" font-weight="bold" font-style="normal" text-anchor="start" fill="#000" stroke="#000" stroke-width="0.18">10</text>
<line x1="507.4" y1="204.2" x2="510" y2="204.2" stroke="#000" stroke-width="1.1" />
<text x="512" y="207.1" font-size="8.4" font-weight="bold" font-style="normal" text-anchor="start" fill="#000" stroke="#000" stroke-width="0.18">15</text>
<line x1="507.4" y1="303.7" x2="509.22" y2="303.7" stroke="#000" stroke-width="1" />
<line x1="507.4" y1="263.9" x2="509.22" y2="263.9" stroke="#000" stroke-width="1" />
<line x1="507.4" y1="224.1" x2="509.22" y2="224.1" stroke="#000" stroke-width="1" />
<text x="0" y="0" font-size="9.6" font-weight="bold" font-style="normal" text-anchor="middle" fill="#000" textLength="41.6" lengthAdjust="spacingAndGlyphs" stroke="#000" stroke-width="0.2" transform="translate(531.6 263) rotate(-90)">Strain (%)</text>
<path d="M315.6 323.6 L340.75 315.64 L371.16 323.6 L396.55 315.64 L426.25 323.6 L452.59 315.64 L482.05 323.6" fill="none" stroke="#58b858" stroke-width="0.9" stroke-linejoin="round" stroke-dasharray="3.6 1.6 0.9 1.6"/>
<path d="M315.6 323.6 L340.75 283.8 L371.16 323.6 L396.55 283.8 L426.25 323.6 L452.59 283.8 L482.05 323.6" fill="none" stroke="#58a8e8" stroke-width="0.9" stroke-linejoin="round" stroke-dasharray="3.6 1.6 0.9 1.6"/>
<path d="M315.6 323.6 L340.75 244 L371.16 323.6 L396.55 244 L426.25 323.6 L452.59 244 L482.05 323.6" fill="none" stroke="#f03030" stroke-width="0.9" stroke-linejoin="round" stroke-dasharray="3.6 1.6 0.9 1.6"/>
<path d="M315.6 323.89 L316.2 323.88 L316.8 323.88 L317.4 323.95 L318 323.77 L318.59 323.85 L319.19 323.16 L319.79 323.39 L320.39 323.62 L320.99 323.3 L321.59 323.33 L322.19 322.62 L322.79 322.68 L323.38 322.37 L323.98 322.4 L324.58 322.24 L325.18 321.66 L325.78 321.6 L326.38 321.43 L326.98 321.65 L327.58 321.32 L328.17 320.67 L328.77 320.88 L329.37 320.18 L329.97 320.27 L330.57 319.68 L331.17 319.35 L331.77 319.71 L332.37 319.01 L332.96 318.77 L333.56 319.07 L334.16 318.77 L334.76 318.14 L335.36 318.39 L335.96 317.89 L336.56 317.78 L337.16 317.26 L337.75 317.6 L338.35 317.26 L338.95 317.3 L339.55 317.11 L340.15 316.56 L340.75 316.49 L341.35 316.26 L341.95 316.16 L342.54 316.04 L343.14 316.15 L343.74 316.33 L344.34 315.89 L344.94 316.36 L345.54 316.14 L346.14 316.15 L346.74 316.56 L347.33 316.38 L347.93 316.35 L348.53 316.56 L349.13 316.82 L349.73 316.49 L350.33 317.27 L350.93 316.76 L351.53 317.43 L352.12 317.68 L352.72 317.28 L353.32 318.02 L353.92 317.93 L354.52 318.29 L355.12 318.12 L355.72 318.37 L356.31 318.7 L356.91 319.48 L357.51 319.19 L358.11 319.83 L358.71 320.19 L359.31 320.45 L359.91 320.27 L360.51 320.52 L361.11 320.88 L361.7 321.28 L362.3 321.04 L362.9 321.71 L363.5 321.96 L364.1 322.21 L364.7 321.83 L365.3 322.65 L365.9 322.22 L366.49 322.56 L367.09 322.9 L367.69 323.25 L368.29 322.97 L368.89 323.48 L369.49 323.31 L370.09 323.22 L370.69 323.29 L371.28 323.23 L371.88 323.19 L372.48 323.25 L373.08 323.62 L373.68 323.82 L374.28 323.2 L374.88 323.06 L375.48 323.65 L376.07 323.25 L376.67 323.06 L377.27 322.82 L377.87 322.94 L378.47 322.96 L379.07 322.55 L379.67 322.35 L380.27 321.92 L380.86 322.33 L381.46 321.51 L382.06 321.62 L382.66 321.64 L383.26 320.92 L383.86 321.11 L384.46 321.03 L385.06 320.57 L385.65 320.44 L386.25 319.71 L386.85 319.7 L387.45 319.26 L388.05 319.5 L388.65 318.88 L389.25 318.75 L389.85 318.9 L390.44 318.57 L391.04 318.44 L391.64 317.87 L392.24 317.69 L392.84 317.67 L393.44 317.31 L394.04 317.01 L394.63 316.93 L395.23 316.61 L395.83 316.64 L396.43 316.95 L397.03 316.83 L397.63 316.51 L398.23 316.36 L398.83 316.19 L399.43 315.98 L400.02 316.08 L400.62 316.44 L401.22 316.51 L401.82 316.18 L402.42 316.52 L403.02 316.57 L403.62 316.59 L404.22 316.66 L404.81 316.84 L405.41 316.68 L406.01 317.06 L406.61 316.91 L407.21 317.21 L407.81 317.59 L408.41 317.72 L409 317.63 L409.6 318.29 L410.2 318.3 L410.8 318.47 L411.4 318.3 L412 318.91 L412.6 318.94 L413.2 319.48 L413.8 319.57 L414.39 320.06 L414.99 320.19 L415.59 320.54 L416.19 320.47 L416.79 320.91 L417.39 321.21 L417.99 321.5 L418.59 321.39 L419.18 321.95 L419.78 322.18 L420.38 322.25 L420.98 322.63 L421.58 322.8 L422.18 322.65 L422.78 322.81 L423.38 322.7 L423.97 323.29 L424.57 323.47 L425.17 323.24 L425.77 323.47 L426.37 323.56 L426.97 323.61 L427.57 323.25 L428.17 323.69 L428.76 323.55 L429.36 323.59 L429.96 323.39 L430.56 323.48 L431.16 323.52 L431.76 323.34 L432.36 323.3 L432.96 322.7 L433.55 322.67 L434.15 322.72 L434.75 322.71 L435.35 322.25 L435.95 322.39 L436.55 322.17 L437.15 321.56 L437.75 321.65 L438.34 321.26 L438.94 320.92 L439.54 320.74 L440.14 320.64 L440.74 320.3 L441.34 320.07 L441.94 319.71 L442.54 319.77 L443.13 319.47 L443.73 319.39 L444.33 319.13 L444.93 318.65 L445.53 318.88 L446.13 318.02 L446.73 318.09 L447.33 317.79 L447.92 317.67 L448.52 317.28 L449.12 317.59 L449.72 317.1 L450.32 316.71 L450.92 316.96 L451.52 316.47 L452.12 316.67 L452.71 316.42 L453.31 316.5 L453.91 316.69 L454.51 316.53 L455.11 316.21 L455.71 316.46 L456.31 316.34 L456.91 316.15 L457.5 316.02 L458.1 316.38 L458.7 316.41 L459.3 316.76 L459.9 316.86 L460.5 316.71 L461.1 316.65 L461.7 317.16 L462.29 316.68 L462.89 316.92 L463.49 317.41 L464.09 317.63 L464.69 317.49 L465.29 318.03 L465.89 318.43 L466.49 318.28 L467.08 318.55 L467.68 318.64 L468.28 318.92 L468.88 319.64 L469.48 319.47 L470.08 320.12 L470.68 320.33 L471.27 320.35 L471.87 320.36 L472.47 321.1 L473.07 321 L473.67 321.17 L474.27 321.33 L474.87 322.01 L475.47 321.87 L476.07 321.93 L476.66 322.25 L477.26 322.18 L477.86 322.69 L478.46 322.72 L479.06 322.76 L479.66 323.23 L480.26 323.37 L480.86 322.9 L481.45 323.35 L482.05 323.23 L482.65 323.75 L483.25 323.67" fill="none" stroke="#20a020" stroke-width="1.6" stroke-linejoin="round" />
<path d="M318.5 325.07 L319.23 322.23 L320.26 318.07 L321.47 313.8 L322.75 308.82 L324 305.05 L325.24 301.74 L326.53 298.82 L327.85 296.09 L329.16 293.79 L330.4 291.51 L331.58 290.38 L332.73 289.17 L333.85 288.62 L334.94 287.99 L336 287.4 L337.02 286.88 L338 286.25 L338.96 285.7 L339.92 285.52 L340.9 285.25 L341.88 284.98 L342.84 285.29 L343.82 285.72 L344.86 286.33 L346 286.69 L347.31 286.81 L348.76 286.78 L350.26 287.48 L351.67 287.82 L352.9 288.74 L353.88 290 L354.7 291.42 L355.43 293.04 L356.17 295.15 L357 296.94 L357.96 299.33 L358.98 302.28 L360.03 304.78 L361.05 307.54 L362 310.17 L362.83 311.73 L363.57 313.8 L364.29 315.25 L365.08 316.54 L366 317.89 L367.11 319.84 L368.34 321.83 L369.64 323.16 L370.95 324.43 L372.2 324.52 L373.38 323.29 L374.54 321 L375.68 318.06 L376.83 315.13 L378 312.16 L379.19 308.51 L380.39 304.91 L381.59 301.46 L382.8 297.98 L384 295.08 L385.19 292.66 L386.36 291.39 L387.54 290.26 L388.75 289.22 L390 288.1 L391.33 286.88 L392.74 286.55 L394.16 285.68 L395.53 285.5 L396.8 285.43 L397.92 285.24 L398.94 285.04 L399.92 285.38 L400.92 286.11 L402 286.32 L403.22 287.35 L404.52 288.23 L405.84 289.25 L407.12 290.73 L408.3 291.77 L409.34 293.18 L410.28 294.77 L411.18 296.18 L412.07 297.88 L413 300.04 L413.96 302.31 L414.93 304.85 L415.91 307.04 L416.93 309.69 L418 311.91 L419.16 314.12 L420.4 316.05 L421.66 318.12 L422.88 319.51 L424 320.78 L424.98 322.51 L425.86 323.65 L426.7 325 L427.56 325.43 L428.5 325.21 L429.53 323.43 L430.6 320.9 L431.72 317.56 L432.85 314.31 L434 310.88 L435.17 307.76 L436.36 303.94 L437.58 300.04 L438.79 296.68 L440 293.94 L441.22 292.01 L442.45 290.11 L443.67 289.11 L444.86 288.04 L446 286.79 L447.05 286.22 L448.02 285.24 L448.98 284.74 L449.95 284.63 L451 284.27 L452.14 284.57 L453.33 284.52 L454.55 284.75 L455.78 285.48 L457 285.76 L458.22 287 L459.45 287.76 L460.67 289.07 L461.86 290.83 L463 292.09 L464.06 293.27 L465.07 294.67 L466.05 296.65 L467.02 298.19 L468 300.16 L468.96 301.96 L469.87 304.57 L470.81 306.94 L471.83 309.4 L473 311.92 L474.49 314.65 L476.26 317.3 L478.04 320.01 L479.61 322.19 L480.7 324" fill="none" stroke="#4a9ee8" stroke-width="1.4" stroke-linejoin="round" />
<path d="M315.5 324.2 L316.12 325.2 L316.75 325.42 L317.38 326.16 L318 326.2 L318.67 322.73 L319.33 319.99 L320 316.13 L320.67 312.87 L321.33 309.48 L322 306 L322.72 303.69 L323.43 300.51 L324.15 297.4 L324.87 294.63 L325.58 292.22 L326.3 290 L326.98 286.56 L327.65 285.08 L328.32 281.72 L329 279 L329.73 276.66 L330.47 272.78 L331.2 270.8 L331.86 268.64 L332.52 267.14 L333.18 264.62 L333.84 262.21 L334.5 260.2 L335.3 256.62 L336.1 252.53 L336.9 249.6 L337.7 247.28 L338.5 246 L339.23 243.16 L339.97 241.15 L340.7 239 L341.5 241.33 L342.3 244 L342.97 245.9 L343.63 246.14 L344.3 248 L345.02 246.61 L345.75 245.62 L346.48 244.42 L347.2 243.9 L347.87 247.65 L348.53 251.64 L349.2 256.1 L350.1 257.52 L351 259 L351.73 260.3 L352.47 263.64 L353.2 265 L353.82 268.3 L354.45 272.66 L355.07 275.78 L355.7 279 L356.43 282.01 L357.15 284.46 L357.88 287.92 L358.6 290 L359.23 291.57 L359.86 294.54 L360.49 296.12 L361.11 298.83 L361.74 301.06 L362.37 302.35 L363 305 L363.62 306.43 L364.25 308.04 L364.88 310.22 L365.5 311.87 L366.12 314.23 L366.75 316.96 L367.38 317.92 L368 320 L368.7 320.83 L369.4 322.18 L370.1 323.02 L370.8 324.81 L371.5 325.9 L372.2 326.18 L372.9 327.8 L373.67 324.96 L374.45 323.16 L375.23 321.11 L376 318 L376.67 314.55 L377.33 310.56 L378 307.71 L378.67 302.59 L379.33 299.01 L380 296 L380.7 293.64 L381.4 290.31 L382.1 286.98 L382.8 284.95 L383.5 282.1 L384.16 280.55 L384.82 277.57 L385.48 275.04 L386.14 272.37 L386.8 270.7 L387.46 267.94 L388.12 267.06 L388.78 264.33 L389.44 262.87 L390.1 260.1 L390.9 256.73 L391.7 254.32 L392.5 252 L393.35 248.43 L394.2 246.2 L394.88 243.92 L395.55 241.29 L396.22 239.46 L396.9 237.7 L397.6 240.33 L398.3 242.94 L399 246 L399.85 247.08 L400.7 249.5 L401.5 249.21 L402.3 250.3 L402.96 253.79 L403.62 255.38 L404.28 258.65 L404.94 261.27 L405.6 264.2 L406.24 265.05 L406.88 265.18 L407.52 266.32 L408.16 266.81 L408.8 268.2 L409.48 271.06 L410.17 274.43 L410.85 276.75 L411.53 279.94 L412.22 281.77 L412.9 285 L413.58 286.78 L414.27 290.06 L414.95 292.48 L415.63 295.11 L416.32 297.31 L417 300 L417.62 302.19 L418.25 304.34 L418.88 306.62 L419.5 307.71 L420.12 309.92 L420.75 312.49 L421.38 313.59 L422 316 L422.67 316.92 L423.33 318.72 L424 319.88 L424.67 322.41 L425.33 323.98 L426 325 L426.75 325.29 L427.5 325.59 L428.25 326.1 L429 327.3 L429.75 324.59 L430.5 322.03 L431.25 320.22 L432 318 L432.67 315.12 L433.33 311.62 L434 308.34 L434.67 306.3 L435.33 302.32 L436 300 L436.67 296.55 L437.33 293.68 L438 290.81 L438.67 287.4 L439.33 284.88 L440 282 L440.75 278.72 L441.5 276.38 L442.25 273.08 L443 270 L443.75 267.59 L444.5 264.23 L445.25 261.39 L446 258 L446.75 256.11 L447.5 253.91 L448.25 252.48 L449 250 L449.66 249.01 L450.32 248.24 L450.98 246.68 L451.64 245.42 L452.3 243.9 L452.98 244.58 L453.65 246.42 L454.32 246.8 L455 248 L455.67 248.78 L456.33 250.02 L457 252 L457.75 254 L458.5 256.64 L459.25 259.76 L460 262 L460.75 264.18 L461.5 266.35 L462.25 269.9 L463 272 L463.67 274.75 L464.33 276.62 L465 279.33 L465.67 282.11 L466.33 285.12 L467 288 L467.67 290.87 L468.33 293.34 L469 295.17 L469.67 296.93 L470.33 299.56 L471 302 L471.67 303.79 L472.33 305.75 L473 307.27 L473.67 310.13 L474.33 312.49 L475 314 L475.63 315.45 L476.27 315.62 L476.9 317.38 L477.53 317.95 L478.17 319.87 L478.8 320.59 L479.43 322.44 L480.07 323.33 L480.7 324" fill="none" stroke="#f41c1c" stroke-width="1.55" stroke-linejoin="round" />
<text x="364.4" y="247.6" font-size="8.5" font-weight="normal" font-style="normal" text-anchor="start" fill="#f01818" textLength="20.2" lengthAdjust="spacingAndGlyphs" >53ms</text>
<line x1="349.1" y1="252" x2="356.82" y2="245.62" stroke="#f03030" stroke-width="0.9" />
<path d="M358.9 243.9 L357.45 247.17 L355.41 244.71 Z" fill="#f03030"/>
<text x="414.8" y="277.6" font-size="8.5" font-weight="normal" font-style="normal" text-anchor="start" fill="#2a9ee0" textLength="20.2" lengthAdjust="spacingAndGlyphs" >57ms</text>
<line x1="408.3" y1="292.9" x2="419.46" y2="283.26" stroke="#2a9ee0" stroke-width="0.9" />
<path d="M421.5 281.5 L420.12 284.8 L418.03 282.38 Z" fill="#2a9ee0"/>
<text x="476" y="297.6" font-size="8.5" font-weight="normal" font-style="normal" text-anchor="start" fill="#808080" textLength="20.2" lengthAdjust="spacingAndGlyphs" stroke="#808080" stroke-width="0.15">71ms</text>
<line x1="465.2" y1="318.8" x2="480.09" y2="303.91" stroke="#808080" stroke-width="0.9" />
<path d="M482 302 L480.87 305.39 L478.61 303.13 Z" fill="#808080"/>
<line x1="334.2" y1="195.9" x2="350.3" y2="195.9" stroke="#f41c1c" stroke-width="1.8" />
<text x="352.4" y="198.4" font-size="7.2" font-weight="normal" font-style="normal" text-anchor="start" fill="#111" textLength="73.2" lengthAdjust="spacingAndGlyphs" stroke="#111" stroke-width="0.14">&#916;R/R<tspan font-size="4.5" dy="1.3">0</tspan><tspan dy="-1.3"> under 10% strain</tspan></text>
<line x1="427" y1="195.9" x2="443.4" y2="195.9" stroke="#f03030" stroke-width="1.3" stroke-dasharray="4 1.8 1 1.8"/>
<text x="445.2" y="198.4" font-size="7.2" font-weight="normal" font-style="normal" text-anchor="start" fill="#111" textLength="57" lengthAdjust="spacingAndGlyphs" stroke="#111" stroke-width="0.14">10% strain loading</text>
<line x1="334.2" y1="205.9" x2="350.3" y2="205.9" stroke="#4a9ee8" stroke-width="1.8" />
<text x="352.4" y="208.4" font-size="7.2" font-weight="normal" font-style="normal" text-anchor="start" fill="#111" textLength="69.3" lengthAdjust="spacingAndGlyphs" stroke="#111" stroke-width="0.14">&#916;R/R<tspan font-size="4.5" dy="1.3">0</tspan><tspan dy="-1.3"> under 5% strain</tspan></text>
<line x1="424.8" y1="205.9" x2="441.2" y2="205.9" stroke="#5aaae8" stroke-width="1.3" stroke-dasharray="4 1.8 1 1.8"/>
<text x="443" y="208.4" font-size="7.2" font-weight="normal" font-style="normal" text-anchor="start" fill="#111" textLength="53.4" lengthAdjust="spacingAndGlyphs" stroke="#111" stroke-width="0.14">5% strain loading</text>
<line x1="334.2" y1="215.6" x2="350.3" y2="215.6" stroke="#20a020" stroke-width="1.8" />
<text x="352.4" y="218.1" font-size="7.2" font-weight="normal" font-style="normal" text-anchor="start" fill="#111" textLength="69.3" lengthAdjust="spacingAndGlyphs" stroke="#111" stroke-width="0.14">&#916;R/R<tspan font-size="4.5" dy="1.3">0</tspan><tspan dy="-1.3"> under 1% strain</tspan></text>
<line x1="424.8" y1="215.6" x2="441.2" y2="215.6" stroke="#50b050" stroke-width="1.3" stroke-dasharray="4 1.8 1 1.8"/>
<text x="443.2" y="218.1" font-size="7.2" font-weight="normal" font-style="normal" text-anchor="start" fill="#111" textLength="53.2" lengthAdjust="spacingAndGlyphs" stroke="#111" stroke-width="0.14">1% strain loading</text>
<rect x="291.7" y="187.6" width="215.7" height="151" stroke="#000" stroke-width="1.4" fill="none" />
</svg></body></html>
